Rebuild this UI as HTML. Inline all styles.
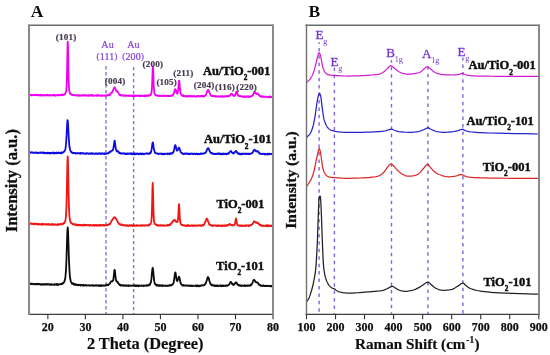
<!DOCTYPE html>
<html><head><meta charset="utf-8"><title>XRD and Raman</title>
<style>html,body{margin:0;padding:0;background:#fff;}svg{display:block;}</style>
</head><body>
<svg width="550" height="355" viewBox="0 0 550 355">
<rect width="550" height="355" fill="#fff"/>
<defs><filter id="soft" x="0" y="0" width="1" height="1"><feGaussianBlur stdDeviation="0.4"/></filter></defs>
<g filter="url(#soft)">
<rect width="550" height="355" fill="#fff"/>
<line x1="106.0" y1="66.1" x2="106.0" y2="314.0" stroke="#8a72cc" stroke-width="1.4" stroke-dasharray="3.3 2.7" stroke-dashoffset="0.0" fill="none"/>
<line x1="133.6" y1="66.9" x2="133.6" y2="314.0" stroke="#8a72cc" stroke-width="1.4" stroke-dasharray="3.3 2.7" stroke-dashoffset="0.0" fill="none"/>
<line x1="319.1" y1="42.2" x2="319.1" y2="314.0" stroke="#8462d6" stroke-width="1.4" stroke-dasharray="3.5 3.94" stroke-dashoffset="1.74" fill="none"/>
<line x1="334.4" y1="67.5" x2="334.4" y2="314.0" stroke="#8462d6" stroke-width="1.4" stroke-dasharray="3.5 3.94" stroke-dashoffset="0.08" fill="none"/>
<line x1="391.5" y1="60.0" x2="391.5" y2="314.0" stroke="#8462d6" stroke-width="1.4" stroke-dasharray="3.5 3.94" stroke-dashoffset="0.66" fill="none"/>
<line x1="427.9" y1="64.0" x2="427.9" y2="314.0" stroke="#8462d6" stroke-width="1.4" stroke-dasharray="3.5 3.94" stroke-dashoffset="5.1" fill="none"/>
<line x1="462.9" y1="57.5" x2="462.9" y2="314.0" stroke="#8462d6" stroke-width="1.4" stroke-dasharray="3.5 3.94" stroke-dashoffset="0.46" fill="none"/>
<path d="M29.7 95.14 L29.95 95.2 L30.2 95.08 L30.45 94.95 L30.7 95.04 L30.95 94.93 L31.2 95.16 L31.45 95.44 L31.7 95.04 L31.95 95.02 L32.2 95.26 L32.45 95.23 L32.7 95.18 L32.95 94.95 L33.2 95.15 L33.45 95.31 L33.7 94.87 L33.95 95.06 L34.2 94.75 L34.45 94.88 L34.7 94.76 L34.95 95.12 L35.2 94.89 L35.45 95.23 L35.7 95.21 L35.95 95.14 L36.2 94.63 L36.45 95.06 L36.7 95.17 L36.95 95.21 L37.2 94.85 L37.45 95.08 L37.7 94.97 L37.95 95.01 L38.2 95.43 L38.45 95.02 L38.7 95.19 L38.95 95.39 L39.2 95.07 L39.45 95.18 L39.7 95.23 L39.95 95.22 L40.2 94.93 L40.45 95.22 L40.7 95.51 L40.95 94.87 L41.2 95.4 L41.45 95.24 L41.7 95.07 L41.95 95.65 L42.2 95.38 L42.45 94.95 L42.7 95.24 L42.95 95.35 L43.2 95.18 L43.45 95.37 L43.7 95.21 L43.95 95.37 L44.2 95.54 L44.45 95.08 L44.7 95.27 L44.95 95.13 L45.2 95.26 L45.45 94.97 L45.7 95.11 L45.95 95.19 L46.2 95.43 L46.45 95.49 L46.7 94.95 L46.95 95.07 L47.2 95.38 L47.45 94.8 L47.7 95.14 L47.95 95.22 L48.2 95.52 L48.45 95.4 L48.7 95.18 L48.95 95.17 L49.2 95.19 L49.45 95.59 L49.7 95.16 L49.95 95.19 L50.2 95.33 L50.45 95.23 L50.7 95.21 L50.95 95.01 L51.2 95.25 L51.45 95.16 L51.7 95.51 L51.95 95.4 L52.2 95.25 L52.45 95.4 L52.7 95.18 L52.95 95.49 L53.2 95.26 L53.45 95.38 L53.7 94.97 L53.95 95.33 L54.2 94.88 L54.45 94.81 L54.7 95.19 L54.95 95.06 L55.2 95.29 L55.45 95.74 L55.7 95.07 L55.95 95.11 L56.2 95.29 L56.45 95.35 L56.7 95.2 L56.95 95.19 L57.2 95.39 L57.45 95.35 L57.7 95 L57.95 95.21 L58.2 95.23 L58.45 94.98 L58.7 95.27 L58.95 95.01 L59.2 95.41 L59.45 95.23 L59.7 95.2 L59.95 95.04 L60.2 95.13 L60.45 94.71 L60.7 94.88 L60.95 95.2 L61.2 94.63 L61.45 95.27 L61.7 94.67 L61.95 95.2 L62.2 94.82 L62.45 95.14 L62.7 94.96 L62.95 94.55 L63.2 95.11 L63.45 95.09 L63.7 94.68 L63.95 94.54 L64.2 94.46 L64.45 94.15 L64.7 94.44 L64.95 93.86 L65.2 93.7 L65.45 93.18 L65.7 92.72 L65.95 91.85 L66.2 91.18 L66.45 88.58 L66.7 84.41 L66.95 76.35 L67.2 64.31 L67.45 50.49 L67.7 41.59 L67.95 45.84 L68.2 58.81 L68.45 71.99 L68.7 81.25 L68.95 87.02 L69.2 90.55 L69.45 91.6 L69.7 92.4 L69.95 93.28 L70.2 93.92 L70.45 93.6 L70.7 94.11 L70.95 94.2 L71.2 94.11 L71.45 94.78 L71.7 94.71 L71.95 94.81 L72.2 94.7 L72.45 95.03 L72.7 94.86 L72.95 94.99 L73.2 94.82 L73.45 94.83 L73.7 95.42 L73.95 95.04 L74.2 95.24 L74.45 95.19 L74.7 95.12 L74.95 95.13 L75.2 95.39 L75.45 95.2 L75.7 95.25 L75.95 95.3 L76.2 95.57 L76.45 95.47 L76.7 95.41 L76.95 95.21 L77.2 95.04 L77.45 95.56 L77.7 95.58 L77.95 95.34 L78.2 95.5 L78.45 95.56 L78.7 95.57 L78.95 95.6 L79.2 95.3 L79.45 95.74 L79.7 95.14 L79.95 95.61 L80.2 95.53 L80.45 95.62 L80.7 95.84 L80.95 95.76 L81.2 95.19 L81.45 95.07 L81.7 95.63 L81.95 95.23 L82.2 95.45 L82.45 95.64 L82.7 95.1 L82.95 95 L83.2 95.52 L83.45 95.48 L83.7 95.42 L83.95 95.48 L84.2 95.29 L84.45 95.15 L84.7 95.45 L84.95 95.27 L85.2 95.13 L85.45 95.6 L85.7 95.48 L85.95 95.59 L86.2 95.28 L86.45 95.36 L86.7 95.28 L86.95 95.31 L87.2 95.55 L87.45 95.34 L87.7 95.59 L87.95 95.59 L88.2 95.96 L88.45 95.21 L88.7 95.72 L88.95 95.5 L89.2 95.52 L89.45 95.21 L89.7 95.43 L89.95 95.69 L90.2 95.51 L90.45 95.55 L90.7 95.47 L90.95 95.79 L91.2 95.53 L91.45 95.06 L91.7 95.39 L91.95 95.11 L92.2 94.83 L92.45 95.43 L92.7 95.84 L92.95 95.56 L93.2 95.29 L93.45 95.34 L93.7 95.8 L93.95 95.59 L94.2 95.57 L94.45 95.54 L94.7 95.57 L94.95 95.74 L95.2 95.68 L95.45 95.61 L95.7 95.33 L95.95 95.67 L96.2 95.41 L96.45 95.8 L96.7 95.28 L96.95 95.53 L97.2 95.56 L97.45 95.27 L97.7 95.95 L97.95 95.89 L98.2 95.47 L98.45 95.74 L98.7 95.65 L98.95 94.99 L99.2 95.62 L99.45 95.55 L99.7 95.59 L99.95 95.33 L100.2 95.51 L100.45 95.53 L100.7 95.83 L100.95 95.64 L101.2 95.56 L101.45 95.9 L101.7 95.44 L101.95 95.47 L102.2 95.15 L102.45 95.9 L102.7 95.76 L102.95 95.75 L103.2 95.69 L103.45 95.56 L103.7 95.58 L103.95 95.47 L104.2 95.48 L104.45 95.53 L104.7 95.84 L104.95 95.63 L105.2 95.48 L105.45 95.36 L105.7 95.34 L105.95 95.82 L106.2 95.57 L106.45 95.46 L106.7 95.35 L106.95 95.16 L107.2 95.37 L107.45 95.56 L107.7 95.25 L107.95 95.25 L108.2 95.21 L108.45 95.24 L108.7 94.8 L108.95 95.02 L109.2 94.78 L109.45 95.04 L109.7 94.52 L109.95 94.63 L110.2 94.61 L110.45 93.95 L110.7 93.6 L110.95 93.46 L111.2 93.09 L111.45 92.55 L111.7 92.56 L111.95 92.63 L112.2 91.86 L112.45 91.57 L112.7 91.02 L112.95 90.85 L113.2 89.94 L113.45 89.3 L113.7 89.11 L113.95 87.92 L114.2 87.78 L114.45 87.54 L114.7 87.24 L114.95 87.62 L115.2 88.5 L115.45 88.73 L115.7 89.36 L115.95 89.84 L116.2 90.66 L116.45 91.33 L116.7 91.44 L116.95 91.12 L117.2 91.19 L117.45 91.37 L117.7 91.76 L117.95 92 L118.2 92.55 L118.45 93.06 L118.7 93.4 L118.95 93.88 L119.2 94.29 L119.45 94.52 L119.7 94.88 L119.95 95.36 L120.2 95.21 L120.45 95.19 L120.7 94.89 L120.95 95.4 L121.2 94.94 L121.45 95.1 L121.7 95.63 L121.95 95.63 L122.2 95.46 L122.45 95.14 L122.7 95.46 L122.95 95.41 L123.2 95.72 L123.45 96.09 L123.7 95.66 L123.95 95.45 L124.2 95.38 L124.45 95.63 L124.7 95.62 L124.95 95.41 L125.2 95.7 L125.45 95.43 L125.7 95.94 L125.95 95.93 L126.2 95.94 L126.45 95.61 L126.7 95.83 L126.95 95.7 L127.2 95.65 L127.45 95.66 L127.7 95.46 L127.95 95.43 L128.2 95.93 L128.45 95.71 L128.7 95.81 L128.95 95.99 L129.2 95.39 L129.45 95.6 L129.7 95.82 L129.95 95.87 L130.2 95.7 L130.45 96.01 L130.7 95.84 L130.95 95.53 L131.2 95.59 L131.45 95.98 L131.7 95.91 L131.95 95.39 L132.2 96.11 L132.45 95.94 L132.7 96.11 L132.95 95.73 L133.2 95.76 L133.45 95.58 L133.7 96.38 L133.95 95.79 L134.2 96.18 L134.45 95.69 L134.7 95.87 L134.95 95.47 L135.2 95.75 L135.45 96.06 L135.7 95.57 L135.95 96.08 L136.2 95.92 L136.45 95.62 L136.7 95.74 L136.95 95.75 L137.2 95.84 L137.45 95.74 L137.7 95.67 L137.95 95.79 L138.2 95.63 L138.45 95.58 L138.7 95.85 L138.95 96.06 L139.2 95.53 L139.45 95.86 L139.7 95.72 L139.95 95.65 L140.2 96.05 L140.45 95.75 L140.7 96.2 L140.95 95.7 L141.2 95.95 L141.45 95.82 L141.7 95.7 L141.95 96 L142.2 95.83 L142.45 96 L142.7 95.85 L142.95 95.62 L143.2 95.84 L143.45 95.87 L143.7 96.07 L143.95 95.65 L144.2 95.84 L144.45 95.47 L144.7 95.99 L144.95 95.6 L145.2 95.44 L145.45 95.81 L145.7 96.06 L145.95 95.48 L146.2 95.56 L146.45 95.63 L146.7 95.53 L146.95 95.85 L147.2 95.58 L147.45 95.58 L147.7 95.84 L147.95 95.53 L148.2 95.76 L148.45 95.42 L148.7 95.33 L148.95 95.14 L149.2 95.9 L149.45 95.35 L149.7 95.39 L149.95 95.22 L150.2 95.13 L150.45 94.93 L150.7 95.1 L150.95 94.11 L151.2 93.46 L151.45 92.62 L151.7 90.75 L151.95 87.94 L152.2 82.68 L152.45 75.23 L152.7 68.35 L152.95 66.47 L153.2 71.4 L153.45 77.79 L153.7 84.99 L153.95 89.08 L154.2 92.15 L154.45 93.08 L154.7 94.01 L154.95 94.18 L155.2 94.59 L155.45 95.33 L155.7 95.37 L155.95 95.22 L156.2 95.22 L156.45 95.08 L156.7 95.47 L156.95 95.61 L157.2 95.64 L157.45 95.68 L157.7 95.49 L157.95 95.75 L158.2 95.78 L158.45 96.1 L158.7 96.24 L158.95 95.82 L159.2 95.69 L159.45 95.86 L159.7 95.76 L159.95 95.74 L160.2 95.9 L160.45 95.69 L160.7 96.06 L160.95 95.91 L161.2 96 L161.45 95.91 L161.7 95.79 L161.95 95.75 L162.2 95.91 L162.45 95.85 L162.7 96.02 L162.95 95.97 L163.2 95.68 L163.45 96 L163.7 95.69 L163.95 95.85 L164.2 95.92 L164.45 95.53 L164.7 96.01 L164.95 96.02 L165.2 95.96 L165.45 95.9 L165.7 95.91 L165.95 95.78 L166.2 95.93 L166.45 95.87 L166.7 96.01 L166.95 95.72 L167.2 96.03 L167.45 96.01 L167.7 95.94 L167.95 95.87 L168.2 96.09 L168.45 95.59 L168.7 96.05 L168.95 96 L169.2 95.99 L169.45 96.01 L169.7 95.76 L169.95 95.84 L170.2 96.02 L170.45 95.95 L170.7 95.88 L170.95 95.47 L171.2 95.89 L171.45 95.99 L171.7 95.91 L171.95 95.68 L172.2 95.21 L172.45 95.66 L172.7 95.27 L172.95 94.53 L173.2 94.87 L173.45 94.02 L173.7 93.47 L173.95 92.85 L174.2 92.33 L174.45 90.92 L174.7 90.03 L174.95 89.54 L175.2 89.17 L175.45 89.06 L175.7 89.75 L175.95 90.47 L176.2 91.53 L176.45 92.59 L176.7 93.19 L176.95 93.49 L177.2 93.77 L177.45 93.11 L177.7 92.53 L177.95 91.33 L178.2 89.18 L178.45 86.48 L178.7 83.25 L178.95 80.78 L179.2 80.71 L179.45 82.47 L179.7 85.44 L179.95 88.94 L180.2 91.18 L180.45 92.93 L180.7 93.55 L180.95 94.48 L181.2 94.82 L181.45 95 L181.7 94.87 L181.95 95.42 L182.2 95.79 L182.45 95.76 L182.7 95.61 L182.95 95.79 L183.2 96.01 L183.45 95.27 L183.7 95.89 L183.95 96.06 L184.2 96.12 L184.45 96.37 L184.7 96.26 L184.95 96.1 L185.2 96.11 L185.45 96.24 L185.7 95.96 L185.95 96.08 L186.2 96.3 L186.45 96.54 L186.7 96.08 L186.95 96.12 L187.2 96.18 L187.45 96.44 L187.7 96.14 L187.95 96.48 L188.2 95.95 L188.45 96.13 L188.7 96.13 L188.95 96.35 L189.2 96.41 L189.45 95.86 L189.7 95.99 L189.95 96.27 L190.2 96.06 L190.45 95.87 L190.7 96.44 L190.95 96.32 L191.2 96.32 L191.45 96.11 L191.7 96.45 L191.95 96.17 L192.2 96.47 L192.45 96.03 L192.7 96.04 L192.95 96.28 L193.2 96.08 L193.45 96.39 L193.7 96.3 L193.95 96.04 L194.2 96.26 L194.45 96.17 L194.7 96.45 L194.95 96.11 L195.2 96.15 L195.45 96.51 L195.7 96.74 L195.95 96.69 L196.2 96.26 L196.45 96.3 L196.7 96.59 L196.95 96.22 L197.2 96.03 L197.45 96.27 L197.7 96.35 L197.95 96.06 L198.2 95.88 L198.45 95.93 L198.7 96.39 L198.95 96.07 L199.2 96.2 L199.45 96.28 L199.7 96.36 L199.95 96.15 L200.2 96.33 L200.45 96.02 L200.7 96.13 L200.95 95.97 L201.2 96.44 L201.45 96.17 L201.7 96 L201.95 96.08 L202.2 96.09 L202.45 96.28 L202.7 95.75 L202.95 95.85 L203.2 95.97 L203.45 96.58 L203.7 96.2 L203.95 95.92 L204.2 96.04 L204.45 96.26 L204.7 95.65 L204.95 95.49 L205.2 95.66 L205.45 95.27 L205.7 95.01 L205.95 94.38 L206.2 94.45 L206.45 93.84 L206.7 92.96 L206.95 92.29 L207.2 90.97 L207.45 90.88 L207.7 90.14 L207.95 89.96 L208.2 89.98 L208.45 90.03 L208.7 90.25 L208.95 91.37 L209.2 91.85 L209.45 92.64 L209.7 93.24 L209.95 93.87 L210.2 93.92 L210.45 95.1 L210.7 95.2 L210.95 95.64 L211.2 96.02 L211.45 95.74 L211.7 95.44 L211.95 95.73 L212.2 95.72 L212.45 95.93 L212.7 96.1 L212.95 95.68 L213.2 96.23 L213.45 95.85 L213.7 96.27 L213.95 96.2 L214.2 96.17 L214.45 96.24 L214.7 96.15 L214.95 96.15 L215.2 95.93 L215.45 96.3 L215.7 96.73 L215.95 96.77 L216.2 96.63 L216.45 96.5 L216.7 96.21 L216.95 96.68 L217.2 96.36 L217.45 96.36 L217.7 96.32 L217.95 96.41 L218.2 96.3 L218.45 96.38 L218.7 96.16 L218.95 96.32 L219.2 96.91 L219.45 96.4 L219.7 96.36 L219.95 96.54 L220.2 96.58 L220.45 96.18 L220.7 96.38 L220.95 96.63 L221.2 96.49 L221.45 96.46 L221.7 96.78 L221.95 96.29 L222.2 96.46 L222.45 96.33 L222.7 96.77 L222.95 96.01 L223.2 96.29 L223.45 96.33 L223.7 96.59 L223.95 96.57 L224.2 96.75 L224.45 96.09 L224.7 96.6 L224.95 96.37 L225.2 96.29 L225.45 96.55 L225.7 96.22 L225.95 95.96 L226.2 96.33 L226.45 96.08 L226.7 96.26 L226.95 96.47 L227.2 96.45 L227.45 96.71 L227.7 96.3 L227.95 95.98 L228.2 96.12 L228.45 96.05 L228.7 95.92 L228.95 96.21 L229.2 95.86 L229.45 95.42 L229.7 95.8 L229.95 95.36 L230.2 95.15 L230.45 94.73 L230.7 94.45 L230.95 93.94 L231.2 93.9 L231.45 93.58 L231.7 93.63 L231.95 93.86 L232.2 93.8 L232.45 94.46 L232.7 94.8 L232.95 95.23 L233.2 95.14 L233.45 95.99 L233.7 95.79 L233.95 95.58 L234.2 95.5 L234.45 95.78 L234.7 95.71 L234.95 95.35 L235.2 95.17 L235.45 94.46 L235.7 93.98 L235.95 92.81 L236.2 92.05 L236.45 91.64 L236.7 91.93 L236.95 91.71 L237.2 92.73 L237.45 93.58 L237.7 94.74 L237.95 94.93 L238.2 95.5 L238.45 95.88 L238.7 95.85 L238.95 95.97 L239.2 96.16 L239.45 95.85 L239.7 96.04 L239.95 96.3 L240.2 96.45 L240.45 96.4 L240.7 96.07 L240.95 96.38 L241.2 96.67 L241.45 96.63 L241.7 96.5 L241.95 96.33 L242.2 96.67 L242.45 96.41 L242.7 96.29 L242.95 96.38 L243.2 96.88 L243.45 96.61 L243.7 96.82 L243.95 96.46 L244.2 96.78 L244.45 96.44 L244.7 96.54 L244.95 97.12 L245.2 96.75 L245.45 96.47 L245.7 96.56 L245.95 96.65 L246.2 96.84 L246.45 96.47 L246.7 96.19 L246.95 96.51 L247.2 96.57 L247.45 96.59 L247.7 96.85 L247.95 96.63 L248.2 96.73 L248.45 96.3 L248.7 96.73 L248.95 96.99 L249.2 96.69 L249.45 96.56 L249.7 96.52 L249.95 96.86 L250.2 96.25 L250.45 96.4 L250.7 96.5 L250.95 96.52 L251.2 96.21 L251.45 96.31 L251.7 96.09 L251.95 96.06 L252.2 95.83 L252.45 95.38 L252.7 95.33 L252.95 95.15 L253.2 94.28 L253.45 93.9 L253.7 93.51 L253.95 92.53 L254.2 92.29 L254.45 91.67 L254.7 92.07 L254.95 92.49 L255.2 92.77 L255.45 92.69 L255.7 93.29 L255.95 93.46 L256.2 93.65 L256.45 94.05 L256.7 93.4 L256.95 93.84 L257.2 93.51 L257.45 93.8 L257.7 93.61 L257.95 93.62 L258.2 94.13 L258.45 94.58 L258.7 94.78 L258.95 95.22 L259.2 95.31 L259.45 95.21 L259.7 96.1 L259.95 96.22 L260.2 96.24 L260.45 96.32 L260.7 96.61 L260.95 96.35 L261.2 96.34 L261.45 96.49 L261.7 96.82 L261.95 96.28 L262.2 96.87 L262.45 96.49 L262.7 96.4 L262.95 96.93 L263.2 96.65 L263.45 96.4 L263.7 96.62 L263.95 96.91 L264.2 96.98 L264.45 96.63 L264.7 96.82 L264.95 96.9 L265.2 96.6 L265.45 96.83 L265.7 96.75 L265.95 96.65 L266.2 96.66 L266.45 96.79 L266.7 96.79 L266.95 96.66 L267.2 96.7 L267.45 97.04 L267.7 96.85 L267.95 97 L268.2 97.07 L268.45 96.94 L268.7 97.31 L268.95 96.64 L269.2 97 L269.45 96.76 L269.7 97.24 L269.95 97.21 L270.2 96.41 L270.45 96.63 L270.7 96.99 L270.95 97.02 L271.2 97.01 L271.45 96.83 L271.7 96.95 L271.95 97 L272.2 96.84 L272.45 97.09" stroke="#f000f0" stroke-width="1.8" fill="none" stroke-linejoin="round"/>
<path d="M29.7 152.04 L29.95 152.68 L30.2 152.32 L30.45 152.77 L30.7 152.52 L30.95 152.38 L31.2 152.67 L31.45 152.39 L31.7 152.4 L31.95 152.26 L32.2 152.61 L32.45 152.73 L32.7 152.86 L32.95 152.61 L33.2 152.88 L33.45 152.66 L33.7 152.64 L33.95 152.8 L34.2 152.91 L34.45 152.61 L34.7 152.64 L34.95 152.66 L35.2 152.73 L35.45 152.52 L35.7 152.95 L35.95 152.64 L36.2 152.84 L36.45 152.56 L36.7 152.83 L36.95 152.84 L37.2 152.67 L37.45 153.22 L37.7 152.86 L37.95 153.17 L38.2 153 L38.45 152.65 L38.7 152.72 L38.95 152.91 L39.2 152.83 L39.45 152.83 L39.7 152.77 L39.95 152.44 L40.2 152.79 L40.45 152.36 L40.7 152.94 L40.95 152.7 L41.2 152.71 L41.45 152.82 L41.7 152.94 L41.95 152.57 L42.2 152.5 L42.45 152.66 L42.7 152.45 L42.95 152.69 L43.2 153.26 L43.45 152.68 L43.7 153.07 L43.95 152.63 L44.2 153 L44.45 152.87 L44.7 152.93 L44.95 153.07 L45.2 153.34 L45.45 153 L45.7 152.99 L45.95 152.75 L46.2 153.1 L46.45 152.92 L46.7 153.16 L46.95 152.98 L47.2 153.37 L47.45 152.56 L47.7 152.93 L47.95 153.2 L48.2 152.93 L48.45 152.84 L48.7 152.96 L48.95 152.72 L49.2 153.05 L49.45 153.56 L49.7 153.28 L49.95 152.79 L50.2 152.84 L50.45 152.95 L50.7 153.26 L50.95 152.86 L51.2 152.9 L51.45 153.24 L51.7 153.24 L51.95 152.97 L52.2 152.81 L52.45 152.72 L52.7 152.91 L52.95 152.57 L53.2 153.23 L53.45 152.93 L53.7 153.17 L53.95 153.48 L54.2 153.32 L54.45 152.81 L54.7 153.26 L54.95 153.32 L55.2 152.9 L55.45 152.85 L55.7 153.04 L55.95 152.71 L56.2 153.38 L56.45 152.52 L56.7 152.81 L56.95 152.99 L57.2 152.99 L57.45 153.07 L57.7 153.09 L57.95 152.97 L58.2 153.26 L58.45 152.53 L58.7 152.99 L58.95 152.82 L59.2 153 L59.45 153 L59.7 152.74 L59.95 152.78 L60.2 153.07 L60.45 152.95 L60.7 152.7 L60.95 153.27 L61.2 153.29 L61.45 152.42 L61.7 152.77 L61.95 153.2 L62.2 152.77 L62.45 152.58 L62.7 152.4 L62.95 152.24 L63.2 152.21 L63.45 152.01 L63.7 152.15 L63.95 151.72 L64.2 151.49 L64.45 151.04 L64.7 150.91 L64.95 150.19 L65.2 149.58 L65.45 148.71 L65.7 146.93 L65.95 144.65 L66.2 141.53 L66.45 137.53 L66.7 132.85 L66.95 127.84 L67.2 123.54 L67.45 120.19 L67.7 120.44 L67.95 122.63 L68.2 126.78 L68.45 131.81 L68.7 136.52 L68.95 140.8 L69.2 143.88 L69.45 146.75 L69.7 148.09 L69.95 148.99 L70.2 150.17 L70.45 150.47 L70.7 151.31 L70.95 151.86 L71.2 152.01 L71.45 151.77 L71.7 152.05 L71.95 152.74 L72.2 152.54 L72.45 152.57 L72.7 152.88 L72.95 153.26 L73.2 153.08 L73.45 152.88 L73.7 152.98 L73.95 153.08 L74.2 152.85 L74.45 152.79 L74.7 153.07 L74.95 152.88 L75.2 153.11 L75.45 153.17 L75.7 153.68 L75.95 153 L76.2 153.19 L76.45 153.2 L76.7 153.35 L76.95 153.5 L77.2 153.17 L77.45 153.11 L77.7 152.95 L77.95 153.12 L78.2 153.45 L78.45 153.35 L78.7 153.13 L78.95 153.28 L79.2 153.38 L79.45 153.5 L79.7 153.26 L79.95 153.35 L80.2 153.01 L80.45 153.16 L80.7 153.78 L80.95 152.95 L81.2 153.36 L81.45 153.49 L81.7 153.37 L81.95 153.28 L82.2 153.45 L82.45 153.47 L82.7 153.46 L82.95 153.07 L83.2 153.45 L83.45 153.3 L83.7 153.37 L83.95 153.55 L84.2 153.64 L84.45 153.71 L84.7 153.4 L84.95 153.72 L85.2 153.78 L85.45 153.77 L85.7 153.83 L85.95 153.5 L86.2 153.5 L86.45 153.72 L86.7 153.24 L86.95 153.59 L87.2 153.43 L87.45 153.47 L87.7 153.17 L87.95 153.36 L88.2 153.56 L88.45 153.76 L88.7 153.79 L88.95 153.55 L89.2 153.53 L89.45 153.39 L89.7 153.67 L89.95 153.53 L90.2 153.72 L90.45 153.97 L90.7 153.58 L90.95 153.26 L91.2 153.4 L91.45 153.27 L91.7 153.33 L91.95 153.89 L92.2 153.65 L92.45 153.27 L92.7 153.75 L92.95 153.88 L93.2 153.53 L93.45 153.46 L93.7 153.54 L93.95 153.68 L94.2 153.76 L94.45 153.88 L94.7 153.88 L94.95 153.88 L95.2 153.92 L95.45 153.77 L95.7 153.29 L95.95 153.59 L96.2 153.69 L96.45 153.54 L96.7 153.83 L96.95 153.55 L97.2 153.42 L97.45 153.95 L97.7 153.78 L97.95 153.68 L98.2 153.83 L98.45 153.86 L98.7 153.7 L98.95 153.09 L99.2 153.48 L99.45 153.53 L99.7 153.41 L99.95 153.67 L100.2 153.89 L100.45 153.52 L100.7 153.37 L100.95 154.07 L101.2 153.52 L101.45 153.35 L101.7 153.67 L101.95 153.71 L102.2 153.46 L102.45 153.78 L102.7 153.5 L102.95 153.4 L103.2 153.64 L103.45 153.76 L103.7 153.45 L103.95 153.65 L104.2 153.55 L104.45 154.19 L104.7 153.4 L104.95 153.85 L105.2 153.53 L105.45 153.5 L105.7 153.67 L105.95 153.69 L106.2 153.75 L106.45 153.53 L106.7 153.29 L106.95 153.28 L107.2 153.47 L107.45 153.43 L107.7 153.56 L107.95 153.27 L108.2 153.33 L108.45 153.33 L108.7 152.91 L108.95 152.4 L109.2 152.31 L109.45 152.07 L109.7 152.53 L109.95 151.78 L110.2 152 L110.45 151.62 L110.7 151.64 L110.95 151.27 L111.2 150.84 L111.45 150.68 L111.7 150.65 L111.95 150.61 L112.2 150.41 L112.45 150.44 L112.7 150.61 L112.95 149.5 L113.2 149.22 L113.45 147.84 L113.7 146.5 L113.95 144.69 L114.2 142.49 L114.45 141.26 L114.7 140.65 L114.95 142.54 L115.2 144.21 L115.45 146.57 L115.7 148.22 L115.95 148.89 L116.2 150.11 L116.45 150.78 L116.7 151.28 L116.95 151.08 L117.2 151.09 L117.45 150.76 L117.7 151.47 L117.95 151.72 L118.2 151.55 L118.45 151.75 L118.7 151.71 L118.95 152.51 L119.2 153.15 L119.45 152.91 L119.7 153.21 L119.95 153.19 L120.2 152.97 L120.45 153.57 L120.7 153.08 L120.95 153.37 L121.2 153.52 L121.45 153.69 L121.7 153.62 L121.95 153.64 L122.2 153.41 L122.45 153.31 L122.7 153.62 L122.95 153.47 L123.2 153.35 L123.45 153.37 L123.7 153.55 L123.95 153.26 L124.2 153.38 L124.45 153.33 L124.7 153.74 L124.95 153.79 L125.2 154.15 L125.45 153.39 L125.7 153.57 L125.95 153.93 L126.2 153.69 L126.45 153.67 L126.7 154.12 L126.95 153.67 L127.2 153.5 L127.45 153.47 L127.7 153.83 L127.95 153.83 L128.2 153.47 L128.45 153.55 L128.7 153.89 L128.95 153.9 L129.2 153.64 L129.45 153.92 L129.7 153.91 L129.95 153.39 L130.2 153.72 L130.45 153.88 L130.7 153.67 L130.95 153.32 L131.2 153.73 L131.45 153.96 L131.7 154.15 L131.95 153.32 L132.2 154.38 L132.45 153.56 L132.7 154.02 L132.95 154.08 L133.2 154.03 L133.45 153.84 L133.7 153.56 L133.95 153.95 L134.2 153.66 L134.45 153.26 L134.7 154.44 L134.95 153.97 L135.2 154.22 L135.45 153.62 L135.7 154.14 L135.95 154.17 L136.2 154.16 L136.45 153.82 L136.7 153.56 L136.95 153.78 L137.2 153.34 L137.45 153.45 L137.7 153.84 L137.95 153.61 L138.2 153.79 L138.45 153.8 L138.7 154.25 L138.95 154.11 L139.2 153.81 L139.45 154.09 L139.7 153.65 L139.95 153.75 L140.2 154.02 L140.45 153.55 L140.7 153.76 L140.95 153.53 L141.2 153.84 L141.45 154.18 L141.7 153.65 L141.95 153.86 L142.2 153.62 L142.45 153.56 L142.7 153.54 L142.95 154.13 L143.2 154.32 L143.45 153.91 L143.7 153.64 L143.95 153.95 L144.2 153.72 L144.45 153.96 L144.7 153.84 L144.95 153.84 L145.2 153.9 L145.45 153.63 L145.7 153.67 L145.95 153.37 L146.2 153.64 L146.45 153.41 L146.7 153.68 L146.95 153.49 L147.2 153.71 L147.45 153.77 L147.7 153.34 L147.95 153.45 L148.2 153.39 L148.45 153.73 L148.7 153.9 L148.95 153.67 L149.2 153.35 L149.45 153.69 L149.7 152.95 L149.95 153.5 L150.2 152.87 L150.45 152.19 L150.7 153.05 L150.95 152.31 L151.2 150.99 L151.45 150.19 L151.7 148.7 L151.95 147.05 L152.2 144.81 L152.45 143.26 L152.7 142.49 L152.95 142.56 L153.2 143.98 L153.45 145.53 L153.7 147.91 L153.95 148.9 L154.2 150.45 L154.45 150.97 L154.7 151.81 L154.95 152.84 L155.2 152.65 L155.45 153.17 L155.7 153.19 L155.95 153.07 L156.2 153.31 L156.45 153.33 L156.7 153.39 L156.95 153.71 L157.2 153.72 L157.45 153.48 L157.7 153.44 L157.95 153.72 L158.2 153.66 L158.45 153.92 L158.7 154.3 L158.95 153.91 L159.2 153.73 L159.45 153.71 L159.7 153.57 L159.95 153.57 L160.2 153.55 L160.45 153.69 L160.7 153.69 L160.95 153.95 L161.2 153.71 L161.45 153.75 L161.7 153.53 L161.95 154.17 L162.2 153.92 L162.45 154.2 L162.7 153.99 L162.95 154.14 L163.2 153.76 L163.45 153.97 L163.7 154.41 L163.95 153.55 L164.2 154.07 L164.45 154.19 L164.7 153.91 L164.95 153.98 L165.2 154.09 L165.45 153.66 L165.7 153.9 L165.95 153.61 L166.2 153.65 L166.45 153.66 L166.7 153.76 L166.95 153.82 L167.2 153.89 L167.45 153.46 L167.7 154.22 L167.95 154.02 L168.2 153.92 L168.45 153.67 L168.7 153.72 L168.95 153.85 L169.2 153.8 L169.45 153.32 L169.7 153.85 L169.95 154.32 L170.2 153.22 L170.45 153.84 L170.7 153.67 L170.95 153.53 L171.2 153.82 L171.45 153.2 L171.7 153.45 L171.95 153.67 L172.2 153.2 L172.45 153.03 L172.7 152.98 L172.95 152.6 L173.2 152.71 L173.45 151.66 L173.7 151.41 L173.95 150.08 L174.2 149.47 L174.45 148.12 L174.7 146.35 L174.95 145.89 L175.2 145.05 L175.45 145.21 L175.7 146.29 L175.95 146.68 L176.2 147.79 L176.45 149.35 L176.7 149.83 L176.95 150.67 L177.2 150.62 L177.45 150.29 L177.7 150.16 L177.95 149.94 L178.2 149.21 L178.45 148.32 L178.7 147.78 L178.95 147.51 L179.2 147.58 L179.45 148.71 L179.7 149.06 L179.95 149.65 L180.2 150.6 L180.45 151.57 L180.7 152.12 L180.95 152.39 L181.2 152.61 L181.45 153.01 L181.7 152.8 L181.95 153.01 L182.2 153.58 L182.45 153.36 L182.7 153.61 L182.95 153.84 L183.2 153.75 L183.45 153.64 L183.7 154.14 L183.95 153.84 L184.2 153.63 L184.45 153.89 L184.7 153.83 L184.95 153.56 L185.2 153.78 L185.45 153.74 L185.7 153.35 L185.95 153.76 L186.2 153.74 L186.45 153.72 L186.7 153.45 L186.95 153.75 L187.2 153.83 L187.45 153.87 L187.7 153.59 L187.95 154 L188.2 153.58 L188.45 153.81 L188.7 154.16 L188.95 153.71 L189.2 153.76 L189.45 154.12 L189.7 153.79 L189.95 153.81 L190.2 153.93 L190.45 154.12 L190.7 153.39 L190.95 153.7 L191.2 153.66 L191.45 153.64 L191.7 153.7 L191.95 153.7 L192.2 153.96 L192.45 153.69 L192.7 153.92 L192.95 153.99 L193.2 153.73 L193.45 153.93 L193.7 154.27 L193.95 153.97 L194.2 153.75 L194.45 153.88 L194.7 153.69 L194.95 153.96 L195.2 154.09 L195.45 153.71 L195.7 153.85 L195.95 154.14 L196.2 153.78 L196.45 153.93 L196.7 153.66 L196.95 153.7 L197.2 153.77 L197.45 154.36 L197.7 153.79 L197.95 153.76 L198.2 153.75 L198.45 153.84 L198.7 154.01 L198.95 153.91 L199.2 154.31 L199.45 153.9 L199.7 154.17 L199.95 153.9 L200.2 153.97 L200.45 153.51 L200.7 153.79 L200.95 153.8 L201.2 153.75 L201.45 153.32 L201.7 153.97 L201.95 153.68 L202.2 153.65 L202.45 153.67 L202.7 153.66 L202.95 153.77 L203.2 153.37 L203.45 153.41 L203.7 153.64 L203.95 153.56 L204.2 153.37 L204.45 153.24 L204.7 153.07 L204.95 153.09 L205.2 153.17 L205.45 152.43 L205.7 152.7 L205.95 152.18 L206.2 151.46 L206.45 151.24 L206.7 150.2 L206.95 149.57 L207.2 149.11 L207.45 148.81 L207.7 148.47 L207.95 148.27 L208.2 148.47 L208.45 148.26 L208.7 149.29 L208.95 149.41 L209.2 150.15 L209.45 150.77 L209.7 151.12 L209.95 151.53 L210.2 152.01 L210.45 152.56 L210.7 152.96 L210.95 153.16 L211.2 152.98 L211.45 153.16 L211.7 153.23 L211.95 153.6 L212.2 153.12 L212.45 153.88 L212.7 153.54 L212.95 153.51 L213.2 153.78 L213.45 153.96 L213.7 153.83 L213.95 154 L214.2 153.81 L214.45 154.07 L214.7 154.08 L214.95 153.8 L215.2 154.15 L215.45 153.88 L215.7 153.87 L215.95 153.65 L216.2 153.8 L216.45 154.04 L216.7 153.58 L216.95 154.02 L217.2 153.96 L217.45 153.95 L217.7 153.4 L217.95 153.87 L218.2 154.04 L218.45 153.73 L218.7 153.92 L218.95 153.38 L219.2 154.05 L219.45 153.76 L219.7 154.1 L219.95 153.5 L220.2 154.06 L220.45 153.86 L220.7 154.09 L220.95 153.71 L221.2 153.78 L221.45 154.41 L221.7 153.73 L221.95 153.76 L222.2 153.85 L222.45 153.69 L222.7 154.17 L222.95 154.29 L223.2 153.75 L223.45 153.52 L223.7 154.16 L223.95 154.14 L224.2 154.07 L224.45 154.14 L224.7 153.69 L224.95 153.84 L225.2 153.57 L225.45 153.55 L225.7 154.07 L225.95 153.7 L226.2 154.33 L226.45 153.83 L226.7 153.66 L226.95 153.96 L227.2 154.15 L227.45 153.83 L227.7 153.4 L227.95 153.69 L228.2 153.82 L228.45 153.29 L228.7 153.07 L228.95 153.25 L229.2 152.8 L229.45 152.22 L229.7 152.04 L229.95 151.6 L230.2 151.5 L230.45 151.22 L230.7 151.36 L230.95 151.34 L231.2 151.07 L231.45 151.81 L231.7 152.26 L231.95 152.49 L232.2 152.9 L232.45 152.78 L232.7 152.87 L232.95 153.4 L233.2 153.03 L233.45 152.8 L233.7 153.46 L233.95 152.98 L234.2 152.93 L234.45 152.48 L234.7 152.25 L234.95 151.99 L235.2 151.85 L235.45 151.71 L235.7 150.9 L235.95 151.47 L236.2 151.1 L236.45 151.32 L236.7 152 L236.95 152.17 L237.2 152.17 L237.45 153.21 L237.7 152.86 L237.95 153.31 L238.2 153.45 L238.45 153.84 L238.7 153.52 L238.95 153.9 L239.2 153.56 L239.45 154.01 L239.7 153.62 L239.95 153.73 L240.2 154.24 L240.45 153.91 L240.7 153.87 L240.95 154.35 L241.2 153.95 L241.45 153.7 L241.7 154.04 L241.95 153.63 L242.2 154.14 L242.45 154.16 L242.7 153.77 L242.95 153.76 L243.2 153.94 L243.45 153.91 L243.7 153.69 L243.95 154.03 L244.2 153.46 L244.45 153.81 L244.7 153.82 L244.95 153.84 L245.2 153.97 L245.45 153.63 L245.7 154.03 L245.95 153.86 L246.2 153.75 L246.45 153.59 L246.7 153.62 L246.95 153.96 L247.2 153.66 L247.45 153.88 L247.7 154.09 L247.95 154.08 L248.2 154.18 L248.45 153.76 L248.7 153.58 L248.95 154.03 L249.2 153.86 L249.45 154.02 L249.7 153.75 L249.95 153.98 L250.2 153.87 L250.45 153.81 L250.7 153.71 L250.95 153.62 L251.2 153.5 L251.45 153.39 L251.7 153.41 L251.95 152.9 L252.2 153.18 L252.45 152.5 L252.7 152.43 L252.95 151.83 L253.2 151.39 L253.45 151.47 L253.7 150.54 L253.95 149.96 L254.2 149.8 L254.45 149.74 L254.7 150.29 L254.95 150.01 L255.2 150.4 L255.45 150.26 L255.7 150.83 L255.95 151.14 L256.2 151.56 L256.45 151.12 L256.7 151.45 L256.95 151.4 L257.2 151.11 L257.45 151.37 L257.7 151.42 L257.95 151.15 L258.2 152.04 L258.45 152.31 L258.7 152.37 L258.95 152.43 L259.2 153.28 L259.45 153.2 L259.7 153.53 L259.95 153.74 L260.2 153.42 L260.45 153.79 L260.7 153.62 L260.95 153.71 L261.2 153.74 L261.45 153.78 L261.7 154.05 L261.95 153.85 L262.2 153.81 L262.45 153.8 L262.7 153.95 L262.95 153.69 L263.2 153.78 L263.45 153.89 L263.7 153.79 L263.95 153.89 L264.2 153.79 L264.45 154.37 L264.7 154.23 L264.95 154.04 L265.2 153.94 L265.45 154.43 L265.7 154.03 L265.95 153.94 L266.2 154.03 L266.45 154.03 L266.7 154.28 L266.95 153.97 L267.2 154.44 L267.45 153.79 L267.7 154.13 L267.95 153.76 L268.2 154.39 L268.45 153.92 L268.7 153.98 L268.95 154.2 L269.2 154.27 L269.45 153.75 L269.7 153.92 L269.95 153.69 L270.2 154.03 L270.45 153.98 L270.7 153.93 L270.95 153.85 L271.2 153.92 L271.45 153.84 L271.7 154.12 L271.95 154.34 L272.2 153.59 L272.45 153.99" stroke="#0c0ce0" stroke-width="1.8" fill="none" stroke-linejoin="round"/>
<path d="M29.7 223.58 L29.95 223.79 L30.2 223.49 L30.45 223.68 L30.7 223.5 L30.95 223.89 L31.2 223.78 L31.45 223.73 L31.7 223.86 L31.95 223.74 L32.2 223.46 L32.45 223.95 L32.7 223.9 L32.95 223.81 L33.2 224.07 L33.45 224.14 L33.7 223.64 L33.95 223.72 L34.2 224.25 L34.45 224.23 L34.7 223.77 L34.95 223.68 L35.2 223.81 L35.45 223.86 L35.7 223.63 L35.95 224 L36.2 223.72 L36.45 223.75 L36.7 224.22 L36.95 223.88 L37.2 224.03 L37.45 224.19 L37.7 224.25 L37.95 224 L38.2 224.1 L38.45 223.92 L38.7 224.49 L38.95 224.26 L39.2 223.89 L39.45 224.14 L39.7 224.31 L39.95 224.27 L40.2 224.57 L40.45 224.48 L40.7 224.07 L40.95 224.18 L41.2 223.93 L41.45 224.27 L41.7 224.26 L41.95 224.83 L42.2 224.27 L42.45 223.8 L42.7 224.12 L42.95 224.3 L43.2 224.01 L43.45 224.1 L43.7 224.22 L43.95 224.38 L44.2 224.28 L44.45 224.13 L44.7 224.51 L44.95 224.22 L45.2 224.24 L45.45 224.06 L45.7 224.19 L45.95 224.52 L46.2 224.03 L46.45 224.37 L46.7 224.55 L46.95 224.32 L47.2 224.46 L47.45 224.17 L47.7 224.71 L47.95 224.67 L48.2 224.49 L48.45 224.06 L48.7 224.22 L48.95 224.67 L49.2 224.84 L49.45 224.54 L49.7 224.75 L49.95 224.35 L50.2 224.45 L50.45 224.49 L50.7 224.59 L50.95 224.17 L51.2 224.71 L51.45 224.8 L51.7 224.26 L51.95 224.22 L52.2 224.6 L52.45 224.38 L52.7 224.01 L52.95 224.71 L53.2 224.57 L53.45 224.44 L53.7 225.01 L53.95 224.58 L54.2 224.38 L54.45 224.57 L54.7 224.32 L54.95 224.38 L55.2 224.64 L55.45 224.43 L55.7 224.45 L55.95 224.92 L56.2 224.74 L56.45 224.72 L56.7 224.66 L56.95 224.64 L57.2 224.85 L57.45 224.52 L57.7 224.93 L57.95 224.3 L58.2 224.45 L58.45 224.19 L58.7 224.41 L58.95 224.58 L59.2 224.77 L59.45 224.29 L59.7 224.42 L59.95 224.32 L60.2 224.21 L60.45 224.08 L60.7 224.33 L60.95 223.9 L61.2 224.26 L61.45 224.2 L61.7 224 L61.95 223.86 L62.2 223.71 L62.45 224.35 L62.7 223.55 L62.95 224.08 L63.2 223.75 L63.45 223.39 L63.7 223.04 L63.95 223.31 L64.2 223.21 L64.45 222.31 L64.7 222.06 L64.95 221.86 L65.2 221.03 L65.45 220.43 L65.7 218.38 L65.95 216.21 L66.2 211.9 L66.45 206.52 L66.7 197.02 L66.95 185.08 L67.2 172.36 L67.45 160.81 L67.7 156.44 L67.95 160.78 L68.2 172.4 L68.45 185.72 L68.7 197.57 L68.95 206.09 L69.2 212.46 L69.45 216.27 L69.7 218.51 L69.95 220.09 L70.2 221.06 L70.45 221.53 L70.7 222.51 L70.95 222.34 L71.2 223.22 L71.45 223.44 L71.7 223.43 L71.95 223.47 L72.2 223.74 L72.45 224.03 L72.7 224.2 L72.95 224.2 L73.2 224.45 L73.45 224.18 L73.7 224.43 L73.95 224.09 L74.2 224.66 L74.45 224.58 L74.7 224.5 L74.95 224.88 L75.2 224.82 L75.45 224.08 L75.7 224.74 L75.95 224.44 L76.2 225.02 L76.45 225.36 L76.7 224.72 L76.95 224.87 L77.2 224.82 L77.45 224.97 L77.7 225.05 L77.95 225.21 L78.2 224.73 L78.45 225.3 L78.7 224.77 L78.95 225.05 L79.2 225.25 L79.45 225.17 L79.7 224.81 L79.95 224.88 L80.2 224.94 L80.45 225.04 L80.7 225.31 L80.95 224.79 L81.2 225.18 L81.45 225.22 L81.7 225.22 L81.95 225.21 L82.2 225.45 L82.45 225.23 L82.7 225.31 L82.95 225.26 L83.2 225.53 L83.45 224.73 L83.7 225.43 L83.95 225.1 L84.2 225.1 L84.45 224.96 L84.7 224.76 L84.95 225.1 L85.2 225.03 L85.45 225.3 L85.7 224.87 L85.95 225.51 L86.2 225.26 L86.45 225.15 L86.7 225.06 L86.95 225.04 L87.2 224.97 L87.45 225.11 L87.7 225.23 L87.95 225.19 L88.2 224.93 L88.45 225.18 L88.7 225.05 L88.95 225.28 L89.2 225.66 L89.45 225.39 L89.7 225.19 L89.95 224.9 L90.2 224.95 L90.45 224.9 L90.7 225.43 L90.95 225.1 L91.2 225.29 L91.45 225.14 L91.7 225.3 L91.95 225.59 L92.2 225.13 L92.45 225.21 L92.7 225.11 L92.95 225.48 L93.2 225.07 L93.45 225.05 L93.7 224.99 L93.95 224.99 L94.2 225.4 L94.45 225.87 L94.7 225.08 L94.95 225.51 L95.2 225.36 L95.45 225.06 L95.7 225.25 L95.95 225.26 L96.2 225.16 L96.45 225.74 L96.7 224.89 L96.95 225.4 L97.2 225.38 L97.45 225.18 L97.7 225.34 L97.95 225.51 L98.2 225.35 L98.45 225.4 L98.7 225.46 L98.95 224.86 L99.2 225.63 L99.45 225.81 L99.7 225.52 L99.95 225.53 L100.2 224.99 L100.45 225.27 L100.7 225.12 L100.95 225.17 L101.2 225.5 L101.45 225.11 L101.7 225.26 L101.95 224.86 L102.2 225.24 L102.45 225.29 L102.7 225.11 L102.95 225.1 L103.2 225.67 L103.45 224.98 L103.7 225.01 L103.95 225.05 L104.2 225.48 L104.45 225.67 L104.7 225.27 L104.95 225.03 L105.2 225.08 L105.45 225.39 L105.7 224.94 L105.95 225.44 L106.2 225.41 L106.45 225.09 L106.7 225.19 L106.95 225.19 L107.2 225.33 L107.45 224.72 L107.7 225.16 L107.95 224.76 L108.2 224.61 L108.45 224.72 L108.7 224.56 L108.95 224.27 L109.2 223.99 L109.45 223.95 L109.7 224.27 L109.95 224.13 L110.2 223.54 L110.45 223.32 L110.7 222.57 L110.95 222.24 L111.2 221.87 L111.45 221.1 L111.7 220.66 L111.95 220.45 L112.2 219.94 L112.45 219.38 L112.7 219.32 L112.95 218.82 L113.2 218.75 L113.45 218.18 L113.7 217.81 L113.95 217.66 L114.2 217.42 L114.45 217.23 L114.7 217.33 L114.95 217.72 L115.2 217.92 L115.45 218.35 L115.7 218.03 L115.95 218.66 L116.2 219.02 L116.45 219.52 L116.7 219.77 L116.95 220.17 L117.2 220.9 L117.45 221.23 L117.7 221.4 L117.95 222.42 L118.2 222.78 L118.45 222.83 L118.7 223.5 L118.95 223.47 L119.2 224.15 L119.45 224.09 L119.7 224.16 L119.95 224.41 L120.2 224.46 L120.45 224.78 L120.7 224.86 L120.95 224.91 L121.2 224.84 L121.45 224.21 L121.7 225.08 L121.95 224.68 L122.2 225.19 L122.45 225.41 L122.7 225.25 L122.95 225.13 L123.2 225.2 L123.45 225.23 L123.7 225.15 L123.95 225.16 L124.2 225.11 L124.45 225.59 L124.7 225.33 L124.95 225.56 L125.2 225.31 L125.45 225.39 L125.7 225.35 L125.95 225.5 L126.2 225.59 L126.45 225.47 L126.7 225.27 L126.95 225.26 L127.2 225.8 L127.45 225.38 L127.7 225.39 L127.95 225.78 L128.2 225.7 L128.45 225.59 L128.7 225.39 L128.95 226 L129.2 225.57 L129.45 225.61 L129.7 225.46 L129.95 225.19 L130.2 225.21 L130.45 225.59 L130.7 225.6 L130.95 225.46 L131.2 225.26 L131.45 225.2 L131.7 225.45 L131.95 225.2 L132.2 225.73 L132.45 225.78 L132.7 226.16 L132.95 225.73 L133.2 225.41 L133.45 225.35 L133.7 224.78 L133.95 225.41 L134.2 225.51 L134.45 225.76 L134.7 225.68 L134.95 225.68 L135.2 225.6 L135.45 225.7 L135.7 225.87 L135.95 225.32 L136.2 225.46 L136.45 225.25 L136.7 225.92 L136.95 225.85 L137.2 225.73 L137.45 225.3 L137.7 225.6 L137.95 225.51 L138.2 225.58 L138.45 225.52 L138.7 225.68 L138.95 225.48 L139.2 225.75 L139.45 225.62 L139.7 225.5 L139.95 225.54 L140.2 225.46 L140.45 225.74 L140.7 225.5 L140.95 225.62 L141.2 225.47 L141.45 225.23 L141.7 225.75 L141.95 225.32 L142.2 225.7 L142.45 225.64 L142.7 225.18 L142.95 225.33 L143.2 225.42 L143.45 225.35 L143.7 225.27 L143.95 225.69 L144.2 225.46 L144.45 225.6 L144.7 225.41 L144.95 225.56 L145.2 225.32 L145.45 225.47 L145.7 225.59 L145.95 225.46 L146.2 225.34 L146.45 225.19 L146.7 225.45 L146.95 225.46 L147.2 225.31 L147.45 225.17 L147.7 225.43 L147.95 225.82 L148.2 225.17 L148.45 225.26 L148.7 225.21 L148.95 224.49 L149.2 225 L149.45 224.72 L149.7 225.05 L149.95 224.52 L150.2 224.19 L150.45 224.04 L150.7 223.73 L150.95 223 L151.2 222.14 L151.45 219.99 L151.7 216.56 L151.95 210.11 L152.2 200.29 L152.45 188.67 L152.7 182.91 L152.95 188.77 L153.2 200.08 L153.45 210.31 L153.7 216.85 L153.95 220.26 L154.2 222.2 L154.45 223.16 L154.7 223.76 L154.95 224.12 L155.2 224.19 L155.45 224.11 L155.7 224.59 L155.95 224.42 L156.2 224.98 L156.45 225.05 L156.7 224.75 L156.95 225.33 L157.2 225.42 L157.45 225.29 L157.7 225.67 L157.95 225.74 L158.2 225.09 L158.45 225.6 L158.7 225.49 L158.95 225.5 L159.2 225.63 L159.45 225.28 L159.7 225.32 L159.95 225.27 L160.2 225.3 L160.45 225.45 L160.7 225.15 L160.95 225.25 L161.2 225.61 L161.45 225.47 L161.7 225.57 L161.95 225.07 L162.2 225.32 L162.45 225.37 L162.7 225.49 L162.95 225.36 L163.2 225.69 L163.45 225.47 L163.7 225.48 L163.95 225.48 L164.2 225.62 L164.45 225.36 L164.7 225.7 L164.95 225.55 L165.2 225.47 L165.45 225.44 L165.7 225.53 L165.95 225.63 L166.2 225.6 L166.45 225.46 L166.7 225.55 L166.95 225.37 L167.2 225.59 L167.45 225.29 L167.7 224.81 L167.95 225.52 L168.2 225.21 L168.45 224.88 L168.7 225.04 L168.95 224.82 L169.2 225.4 L169.45 224.95 L169.7 224.38 L169.95 224.72 L170.2 224.36 L170.45 224.7 L170.7 223.84 L170.95 223.35 L171.2 223.61 L171.45 223.24 L171.7 222.92 L171.95 222.21 L172.2 222.42 L172.45 222.33 L172.7 221.18 L172.95 221.49 L173.2 220.76 L173.45 221.1 L173.7 220.42 L173.95 220.09 L174.2 220.28 L174.45 220.14 L174.7 219.97 L174.95 220.41 L175.2 220.36 L175.45 220.34 L175.7 221.47 L175.95 221.23 L176.2 221.45 L176.45 221.9 L176.7 221.68 L176.95 221.84 L177.2 222.02 L177.45 221.77 L177.7 221.17 L177.95 219.82 L178.2 216.58 L178.45 212.49 L178.7 207.59 L178.95 204.2 L179.2 206.06 L179.45 210.59 L179.7 216 L179.95 219.58 L180.2 221.81 L180.45 222.8 L180.7 223.82 L180.95 224.04 L181.2 224.63 L181.45 224.64 L181.7 224.63 L181.95 225.13 L182.2 225.18 L182.45 224.97 L182.7 225.42 L182.95 225.15 L183.2 225.19 L183.45 225.33 L183.7 225.17 L183.95 225.27 L184.2 225.36 L184.45 225.75 L184.7 225.77 L184.95 225.4 L185.2 225.83 L185.45 225.48 L185.7 225.59 L185.95 225.71 L186.2 225.59 L186.45 226.07 L186.7 225.6 L186.95 225.3 L187.2 225.86 L187.45 225.49 L187.7 225.52 L187.95 224.93 L188.2 225.82 L188.45 225.78 L188.7 225.78 L188.95 225.83 L189.2 225.99 L189.45 225.61 L189.7 225.83 L189.95 225.47 L190.2 225.56 L190.45 225.87 L190.7 225.73 L190.95 225.35 L191.2 225.72 L191.45 225.61 L191.7 225.47 L191.95 225.75 L192.2 225.56 L192.45 225.31 L192.7 225.41 L192.95 226.04 L193.2 225.32 L193.45 225.71 L193.7 225.79 L193.95 225.8 L194.2 225.39 L194.45 225.59 L194.7 225.69 L194.95 225.83 L195.2 225.51 L195.45 225.4 L195.7 225.87 L195.95 225.89 L196.2 225.73 L196.45 225.51 L196.7 225.73 L196.95 225.66 L197.2 225.82 L197.45 225.36 L197.7 225.65 L197.95 225.59 L198.2 225.37 L198.45 225.66 L198.7 225.61 L198.95 225.5 L199.2 225.67 L199.45 225.26 L199.7 225.55 L199.95 225.65 L200.2 225.6 L200.45 225.76 L200.7 225.24 L200.95 225.15 L201.2 225.51 L201.45 225.54 L201.7 225.87 L201.95 225.51 L202.2 225.14 L202.45 225.45 L202.7 225.02 L202.95 224.8 L203.2 225.59 L203.45 224.95 L203.7 224.86 L203.95 224.59 L204.2 224.56 L204.45 223.86 L204.7 223.61 L204.95 222.57 L205.2 221.87 L205.45 221.8 L205.7 221.08 L205.95 220.14 L206.2 219.42 L206.45 218.9 L206.7 218.45 L206.95 218.97 L207.2 219.1 L207.45 219.6 L207.7 220.25 L207.95 221.14 L208.2 221.75 L208.45 222.48 L208.7 222.66 L208.95 223.56 L209.2 224.37 L209.45 224.13 L209.7 224.5 L209.95 224.95 L210.2 225.14 L210.45 225.2 L210.7 224.81 L210.95 225.35 L211.2 225.05 L211.45 225.18 L211.7 225.52 L211.95 225.37 L212.2 225.65 L212.45 226.19 L212.7 225.69 L212.95 225.7 L213.2 225.36 L213.45 225.43 L213.7 225.35 L213.95 225.48 L214.2 225.37 L214.45 225.48 L214.7 225.59 L214.95 225.42 L215.2 225.34 L215.45 225.36 L215.7 225.77 L215.95 225.69 L216.2 225.91 L216.45 225.91 L216.7 225.62 L216.95 225.84 L217.2 225.38 L217.45 226.21 L217.7 225.97 L217.95 225.66 L218.2 225.46 L218.45 225.8 L218.7 225.31 L218.95 225.55 L219.2 225.89 L219.45 225.74 L219.7 225.62 L219.95 225.94 L220.2 225.5 L220.45 225.79 L220.7 225.62 L220.95 225.54 L221.2 225.83 L221.45 225.51 L221.7 226.15 L221.95 225.6 L222.2 226.17 L222.45 225.49 L222.7 225.86 L222.95 225.46 L223.2 225.43 L223.45 225.75 L223.7 225.87 L223.95 225.43 L224.2 225.97 L224.45 225.53 L224.7 225.73 L224.95 225.77 L225.2 225.81 L225.45 225.27 L225.7 226.01 L225.95 225.76 L226.2 225.51 L226.45 225.35 L226.7 225.15 L226.95 225.17 L227.2 225.51 L227.45 225.22 L227.7 224.93 L227.95 224.93 L228.2 225.24 L228.45 224.65 L228.7 224.43 L228.95 224.71 L229.2 224.41 L229.45 224.26 L229.7 224.14 L229.95 224.01 L230.2 224.22 L230.45 224.53 L230.7 224.74 L230.95 225.02 L231.2 225.19 L231.45 225.23 L231.7 225.32 L231.95 225.12 L232.2 224.92 L232.45 225.31 L232.7 225.23 L232.95 225.29 L233.2 225.36 L233.45 225.11 L233.7 225.08 L233.95 225.22 L234.2 225.11 L234.45 224.68 L234.7 224.46 L234.95 223.53 L235.2 222.21 L235.45 220.96 L235.7 219.86 L235.95 218.45 L236.2 219.24 L236.45 220.64 L236.7 222.22 L236.95 223.01 L237.2 224.56 L237.45 224.73 L237.7 224.99 L237.95 225.19 L238.2 225.49 L238.45 225.45 L238.7 225.46 L238.95 225.83 L239.2 225.42 L239.45 225.38 L239.7 225.8 L239.95 225.8 L240.2 225.9 L240.45 225.44 L240.7 225.92 L240.95 225.8 L241.2 226.09 L241.45 225.43 L241.7 225.76 L241.95 225.66 L242.2 225.37 L242.45 225.57 L242.7 225.97 L242.95 225.63 L243.2 225.57 L243.45 225.92 L243.7 225.95 L243.95 225.95 L244.2 225.56 L244.45 225.72 L244.7 225.95 L244.95 225.58 L245.2 225.56 L245.45 225.9 L245.7 226.06 L245.95 225.46 L246.2 225.14 L246.45 225.38 L246.7 225.47 L246.95 225.66 L247.2 225.82 L247.45 225.64 L247.7 225.51 L247.95 225.69 L248.2 225.43 L248.45 225.62 L248.7 225.47 L248.95 226.18 L249.2 225.75 L249.45 225.36 L249.7 225.3 L249.95 225.39 L250.2 225.08 L250.45 225.22 L250.7 225.15 L250.95 225.42 L251.2 225.02 L251.45 224.8 L251.7 224.51 L251.95 224.34 L252.2 224.33 L252.45 224 L252.7 223.97 L252.95 223.21 L253.2 223.18 L253.45 222.6 L253.7 222.15 L253.95 221.36 L254.2 221.26 L254.45 221.57 L254.7 221.71 L254.95 221.56 L255.2 221.88 L255.45 221.87 L255.7 222.12 L255.95 222.27 L256.2 222.8 L256.45 222.76 L256.7 222.68 L256.95 222.66 L257.2 222.84 L257.45 222.78 L257.7 222.57 L257.95 223.26 L258.2 223.15 L258.45 223.37 L258.7 224 L258.95 224.21 L259.2 224.26 L259.45 224.66 L259.7 224.53 L259.95 224.82 L260.2 224.62 L260.45 225.51 L260.7 224.92 L260.95 225.57 L261.2 225.29 L261.45 225.31 L261.7 225.52 L261.95 225.65 L262.2 225.75 L262.45 226.03 L262.7 225.74 L262.95 225.87 L263.2 225.56 L263.45 225.86 L263.7 225.75 L263.95 225.62 L264.2 225.71 L264.45 225.73 L264.7 225.79 L264.95 225.85 L265.2 225.65 L265.45 225.61 L265.7 225.94 L265.95 225.41 L266.2 225.65 L266.45 226.13 L266.7 225.2 L266.95 225.65 L267.2 225.96 L267.45 225.45 L267.7 226.38 L267.95 225.25 L268.2 226.13 L268.45 226.16 L268.7 226.03 L268.95 225.78 L269.2 225.91 L269.45 225.63 L269.7 226.01 L269.95 225.59 L270.2 225.78 L270.45 226.06 L270.7 225.6 L270.95 225.76 L271.2 225.88 L271.45 225.55 L271.7 226.1 L271.95 225.92 L272.2 225.52 L272.45 225.84" stroke="#f01414" stroke-width="1.8" fill="none" stroke-linejoin="round"/>
<path d="M29.7 283.54 L29.95 283.58 L30.2 283.76 L30.45 283.6 L30.7 283.98 L30.95 283.63 L31.2 284.01 L31.45 283.8 L31.7 284.01 L31.95 283.72 L32.2 283.74 L32.45 283.61 L32.7 284.01 L32.95 284.1 L33.2 284.37 L33.45 284.2 L33.7 283.99 L33.95 283.9 L34.2 284.04 L34.45 283.96 L34.7 284.3 L34.95 284.2 L35.2 283.82 L35.45 283.87 L35.7 284.33 L35.95 284.11 L36.2 284 L36.45 284.33 L36.7 283.99 L36.95 284.03 L37.2 284 L37.45 283.68 L37.7 284.31 L37.95 283.87 L38.2 284.02 L38.45 283.99 L38.7 284.33 L38.95 284.16 L39.2 284.19 L39.45 283.83 L39.7 284.19 L39.95 283.89 L40.2 284.3 L40.45 284.32 L40.7 284.24 L40.95 284.71 L41.2 284.38 L41.45 284.41 L41.7 284.32 L41.95 284.25 L42.2 284.52 L42.45 284.56 L42.7 284.04 L42.95 284.56 L43.2 284.45 L43.45 284.56 L43.7 284.46 L43.95 284.09 L44.2 284.12 L44.45 284.78 L44.7 284.45 L44.95 284.09 L45.2 284.48 L45.45 284.33 L45.7 284.02 L45.95 283.93 L46.2 284.08 L46.45 284.5 L46.7 284.44 L46.95 284.4 L47.2 284.53 L47.45 284.6 L47.7 284.01 L47.95 284.42 L48.2 284.31 L48.45 284.22 L48.7 284.38 L48.95 284.48 L49.2 284.45 L49.45 284.2 L49.7 284.42 L49.95 284.97 L50.2 284.3 L50.45 284.16 L50.7 284.6 L50.95 284.68 L51.2 284.65 L51.45 284.3 L51.7 284.77 L51.95 284.38 L52.2 284.31 L52.45 284.43 L52.7 284.54 L52.95 284.72 L53.2 284.7 L53.45 284.56 L53.7 284.77 L53.95 284.58 L54.2 284.76 L54.45 284.26 L54.7 284.22 L54.95 284.73 L55.2 284.25 L55.45 284.49 L55.7 284.53 L55.95 284.44 L56.2 284.44 L56.45 284.84 L56.7 283.97 L56.95 284.71 L57.2 285.01 L57.45 284.5 L57.7 284.47 L57.95 284.62 L58.2 284.85 L58.45 284.17 L58.7 284.43 L58.95 284.34 L59.2 284.48 L59.45 284.37 L59.7 284.45 L59.95 284.17 L60.2 284.24 L60.45 284.04 L60.7 283.99 L60.95 284.05 L61.2 283.98 L61.45 283.69 L61.7 284.21 L61.95 283.75 L62.2 283.37 L62.45 283.8 L62.7 283.25 L62.95 283.37 L63.2 283.07 L63.45 282.91 L63.7 282.64 L63.95 282.16 L64.2 281.91 L64.45 281.85 L64.7 280.25 L64.95 279.84 L65.2 278.61 L65.45 276.41 L65.7 273.65 L65.95 270.7 L66.2 265.18 L66.45 259.43 L66.7 251.61 L66.95 243.31 L67.2 235.5 L67.45 229.54 L67.7 227.39 L67.95 229.51 L68.2 235.45 L68.45 243.37 L68.7 251.83 L68.95 259.2 L69.2 265.1 L69.45 270.16 L69.7 274.11 L69.95 276.59 L70.2 278.54 L70.45 279.73 L70.7 280.81 L70.95 281.63 L71.2 282.26 L71.45 282.44 L71.7 283.22 L71.95 283.02 L72.2 283.96 L72.45 283.67 L72.7 283.73 L72.95 283.66 L73.2 283.27 L73.45 283.98 L73.7 284.15 L73.95 284.62 L74.2 283.98 L74.45 284.77 L74.7 284.36 L74.95 284.64 L75.2 283.97 L75.45 284.61 L75.7 284.55 L75.95 284.82 L76.2 284.73 L76.45 284.49 L76.7 284.99 L76.95 284.96 L77.2 284.97 L77.45 285.08 L77.7 285.13 L77.95 284.91 L78.2 284.64 L78.45 284.65 L78.7 285.27 L78.95 285.15 L79.2 285.03 L79.45 284.93 L79.7 285.05 L79.95 285.06 L80.2 285 L80.45 284.93 L80.7 285.58 L80.95 285.16 L81.2 284.99 L81.45 284.85 L81.7 284.99 L81.95 285.32 L82.2 285.33 L82.45 285.13 L82.7 285.2 L82.95 285.13 L83.2 284.96 L83.45 285.5 L83.7 285.3 L83.95 285.77 L84.2 285.07 L84.45 285.21 L84.7 285.45 L84.95 285.21 L85.2 284.96 L85.45 285.06 L85.7 285.3 L85.95 285.36 L86.2 285.27 L86.45 285.52 L86.7 285.52 L86.95 285.38 L87.2 285.32 L87.45 285.26 L87.7 285.45 L87.95 285.53 L88.2 285.35 L88.45 285.44 L88.7 285.27 L88.95 285.04 L89.2 285.13 L89.45 285.53 L89.7 285.46 L89.95 285.72 L90.2 285.38 L90.45 285.56 L90.7 285.67 L90.95 285.6 L91.2 285.25 L91.45 285.35 L91.7 285.42 L91.95 285.18 L92.2 285.5 L92.45 285.63 L92.7 285.3 L92.95 285.84 L93.2 285.35 L93.45 285.37 L93.7 285.36 L93.95 285.26 L94.2 285.51 L94.45 285.43 L94.7 285.79 L94.95 285.56 L95.2 285.55 L95.45 285.38 L95.7 285.12 L95.95 285.42 L96.2 285.25 L96.45 285.65 L96.7 285.44 L96.95 285.81 L97.2 285.61 L97.45 285.63 L97.7 285.5 L97.95 285.49 L98.2 285.59 L98.45 285.65 L98.7 285.29 L98.95 285.56 L99.2 286.03 L99.45 285.43 L99.7 285.4 L99.95 285.3 L100.2 285.13 L100.45 285.71 L100.7 285.46 L100.95 285.51 L101.2 285.85 L101.45 286 L101.7 285.25 L101.95 285.67 L102.2 285.57 L102.45 285.52 L102.7 285.53 L102.95 285.42 L103.2 285.77 L103.45 285.55 L103.7 285.48 L103.95 285.68 L104.2 285.59 L104.45 285.49 L104.7 285.45 L104.95 285.75 L105.2 285.47 L105.45 285.32 L105.7 285.14 L105.95 285.23 L106.2 285.05 L106.45 285.29 L106.7 285.29 L106.95 284.75 L107.2 285.16 L107.45 285.25 L107.7 285.08 L107.95 284.75 L108.2 285.14 L108.45 284.58 L108.7 284.31 L108.95 284.15 L109.2 284.17 L109.45 284.12 L109.7 283.87 L109.95 283.32 L110.2 282.66 L110.45 282.41 L110.7 281.99 L110.95 281.82 L111.2 281.21 L111.45 281.45 L111.7 281.49 L111.95 281.32 L112.2 281.49 L112.45 281.18 L112.7 280.92 L112.95 280.68 L113.2 280.24 L113.45 278.84 L113.7 276.55 L113.95 274.47 L114.2 271.61 L114.45 270.22 L114.7 269.83 L114.95 271.19 L115.2 273.95 L115.45 276.13 L115.7 278.18 L115.95 279.55 L116.2 280.84 L116.45 281.25 L116.7 281.44 L116.95 281.44 L117.2 281.93 L117.45 281.7 L117.7 281.93 L117.95 282.74 L118.2 283.2 L118.45 283.38 L118.7 283.31 L118.95 283.91 L119.2 284.46 L119.45 284.57 L119.7 285.1 L119.95 284.61 L120.2 285.18 L120.45 284.98 L120.7 285.48 L120.95 285.23 L121.2 285.52 L121.45 285.18 L121.7 285.05 L121.95 285.14 L122.2 285.28 L122.45 285.21 L122.7 285.71 L122.95 285.76 L123.2 285.54 L123.45 285.27 L123.7 285.49 L123.95 285.37 L124.2 285.85 L124.45 285.61 L124.7 285.66 L124.95 285.47 L125.2 285.13 L125.45 285.41 L125.7 285.34 L125.95 285.67 L126.2 285.62 L126.45 285.43 L126.7 285.52 L126.95 285.96 L127.2 285.41 L127.45 285.42 L127.7 285.58 L127.95 285.48 L128.2 285.54 L128.45 285.76 L128.7 286.03 L128.95 285.26 L129.2 285.65 L129.45 285.66 L129.7 285.64 L129.95 285.62 L130.2 285.59 L130.45 285.89 L130.7 285.57 L130.95 285.64 L131.2 285.67 L131.45 285.7 L131.7 285.64 L131.95 285.9 L132.2 285.68 L132.45 285.72 L132.7 285.67 L132.95 285.46 L133.2 285.5 L133.45 285.46 L133.7 285.73 L133.95 285.53 L134.2 285.46 L134.45 285.74 L134.7 285.81 L134.95 285.31 L135.2 286.07 L135.45 285.7 L135.7 285.67 L135.95 285.93 L136.2 285.71 L136.45 285.56 L136.7 286.18 L136.95 285.46 L137.2 285.68 L137.45 285.88 L137.7 285.46 L137.95 285.68 L138.2 285.78 L138.45 286.23 L138.7 285.5 L138.95 285.68 L139.2 285.84 L139.45 285.71 L139.7 285.43 L139.95 285.78 L140.2 285.71 L140.45 285.79 L140.7 285.93 L140.95 285.91 L141.2 285.77 L141.45 285.75 L141.7 285.43 L141.95 285.64 L142.2 285.72 L142.45 285.58 L142.7 285.68 L142.95 285.48 L143.2 285.99 L143.45 286.12 L143.7 285.55 L143.95 285.72 L144.2 285.57 L144.45 285.9 L144.7 285.7 L144.95 285.62 L145.2 285.54 L145.45 285.6 L145.7 285.34 L145.95 285.69 L146.2 285.37 L146.45 285.63 L146.7 285.52 L146.95 285.7 L147.2 285.43 L147.45 285.63 L147.7 285.16 L147.95 285.46 L148.2 285.23 L148.45 285.26 L148.7 285.16 L148.95 285.27 L149.2 284.52 L149.45 284.91 L149.7 284.35 L149.95 284.73 L150.2 283.71 L150.45 283.46 L150.7 282.63 L150.95 282.35 L151.2 280.28 L151.45 278.69 L151.7 276.16 L151.95 273.15 L152.2 270.73 L152.45 268.78 L152.7 267.75 L152.95 268.84 L153.2 270.72 L153.45 273.55 L153.7 276.2 L153.95 278.74 L154.2 280.99 L154.45 282.07 L154.7 283.04 L154.95 283.55 L155.2 283.98 L155.45 284.79 L155.7 284.44 L155.95 284.65 L156.2 284.95 L156.45 284.98 L156.7 285.58 L156.95 284.7 L157.2 285.36 L157.45 285.49 L157.7 285.13 L157.95 285.27 L158.2 285.54 L158.45 285.83 L158.7 285.29 L158.95 285.17 L159.2 285.75 L159.45 285.89 L159.7 285.49 L159.95 285.09 L160.2 285.91 L160.45 285.56 L160.7 285.86 L160.95 285.61 L161.2 285.55 L161.45 285.54 L161.7 285.97 L161.95 285.96 L162.2 285.18 L162.45 285.45 L162.7 286.05 L162.95 285.58 L163.2 285.36 L163.45 285.67 L163.7 285.64 L163.95 285.65 L164.2 285.56 L164.45 285.6 L164.7 285.57 L164.95 285.74 L165.2 285.48 L165.45 285.6 L165.7 285.63 L165.95 285.94 L166.2 285.73 L166.45 285.62 L166.7 285.76 L166.95 285.72 L167.2 285.86 L167.45 285.73 L167.7 286 L167.95 285.89 L168.2 285.58 L168.45 285.48 L168.7 285.75 L168.95 285.66 L169.2 285.5 L169.45 285.18 L169.7 285.08 L169.95 285.53 L170.2 285.59 L170.45 285.56 L170.7 285.06 L170.95 285.52 L171.2 285.12 L171.45 285.26 L171.7 285.19 L171.95 284.82 L172.2 284.74 L172.45 284.24 L172.7 284.26 L172.95 283.73 L173.2 283.73 L173.45 282.95 L173.7 282.17 L173.95 280.76 L174.2 278.93 L174.45 277.27 L174.7 275.15 L174.95 273.65 L175.2 272.58 L175.45 272.34 L175.7 273.63 L175.95 275.3 L176.2 277.01 L176.45 278.87 L176.7 280.29 L176.95 280.64 L177.2 281 L177.45 280.5 L177.7 280.52 L177.95 279.7 L178.2 278.38 L178.45 277.95 L178.7 277.24 L178.95 276.61 L179.2 276.94 L179.45 277.6 L179.7 279.09 L179.95 279.79 L180.2 281.19 L180.45 282.68 L180.7 283.08 L180.95 283.8 L181.2 284.14 L181.45 284.26 L181.7 284.76 L181.95 285.04 L182.2 284.85 L182.45 285.25 L182.7 285.53 L182.95 285.55 L183.2 285.02 L183.45 285.2 L183.7 285.1 L183.95 285.72 L184.2 285.65 L184.45 285.7 L184.7 285.37 L184.95 285.33 L185.2 285.62 L185.45 285.64 L185.7 285.45 L185.95 285.68 L186.2 285.8 L186.45 285.72 L186.7 285.45 L186.95 285.23 L187.2 285.64 L187.45 285.74 L187.7 285.66 L187.95 285.63 L188.2 285.58 L188.45 285.89 L188.7 285.73 L188.95 285.77 L189.2 285.53 L189.45 285.62 L189.7 285.79 L189.95 285.54 L190.2 285.48 L190.45 285.69 L190.7 286.03 L190.95 285.81 L191.2 286.09 L191.45 285.74 L191.7 285.71 L191.95 285.47 L192.2 285.65 L192.45 286.09 L192.7 285.85 L192.95 285.94 L193.2 285.94 L193.45 285.78 L193.7 285.74 L193.95 285.81 L194.2 285.93 L194.45 285.88 L194.7 285.89 L194.95 285.81 L195.2 285.61 L195.45 285.72 L195.7 285.57 L195.95 285.99 L196.2 285.31 L196.45 285.72 L196.7 286.29 L196.95 285.69 L197.2 285.51 L197.45 285.75 L197.7 286.04 L197.95 285.71 L198.2 285.88 L198.45 285.76 L198.7 285.65 L198.95 286.42 L199.2 285.73 L199.45 285.59 L199.7 285.59 L199.95 285.78 L200.2 285.77 L200.45 285.84 L200.7 285.69 L200.95 285.33 L201.2 285.74 L201.45 285.54 L201.7 285.53 L201.95 285.24 L202.2 285.41 L202.45 285.35 L202.7 285.47 L202.95 285.12 L203.2 285.4 L203.45 285.37 L203.7 285.03 L203.95 285.05 L204.2 284.89 L204.45 285.14 L204.7 284.2 L204.95 284.45 L205.2 283.86 L205.45 283.75 L205.7 283.55 L205.95 282.65 L206.2 282.14 L206.45 281.14 L206.7 280.9 L206.95 279.77 L207.2 278.94 L207.45 277.62 L207.7 277.11 L207.95 277.34 L208.2 277.17 L208.45 277.6 L208.7 278.44 L208.95 278.94 L209.2 280.29 L209.45 281 L209.7 281.92 L209.95 282.39 L210.2 283.27 L210.45 283.51 L210.7 284.3 L210.95 284.67 L211.2 284.88 L211.45 285 L211.7 285.18 L211.95 284.56 L212.2 285.43 L212.45 285.26 L212.7 285.4 L212.95 285.37 L213.2 285.17 L213.45 285.39 L213.7 285.69 L213.95 285.88 L214.2 285.46 L214.45 285.42 L214.7 285.95 L214.95 285.46 L215.2 286.12 L215.45 285.69 L215.7 285.5 L215.95 285.92 L216.2 286.09 L216.45 285.41 L216.7 286.08 L216.95 285.68 L217.2 286.07 L217.45 285.67 L217.7 285.41 L217.95 285.88 L218.2 285.97 L218.45 286.24 L218.7 286.16 L218.95 285.93 L219.2 285.73 L219.45 285.67 L219.7 285.72 L219.95 285.61 L220.2 285.73 L220.45 285.23 L220.7 285.83 L220.95 285.79 L221.2 286.36 L221.45 285.96 L221.7 285.69 L221.95 285.92 L222.2 285.52 L222.45 285.66 L222.7 285.38 L222.95 286.1 L223.2 285.91 L223.45 285.52 L223.7 285.76 L223.95 285.98 L224.2 285.87 L224.45 285.84 L224.7 285.56 L224.95 285.6 L225.2 285.75 L225.45 285.92 L225.7 285.52 L225.95 285.44 L226.2 285.92 L226.45 285.44 L226.7 285.86 L226.95 285.64 L227.2 285.73 L227.45 285.87 L227.7 285.55 L227.95 285.47 L228.2 284.95 L228.45 284.82 L228.7 284.88 L228.95 284.78 L229.2 284.39 L229.45 284.19 L229.7 283.3 L229.95 282.83 L230.2 282.61 L230.45 282.1 L230.7 281.97 L230.95 281.85 L231.2 282.56 L231.45 282.49 L231.7 283.26 L231.95 283.25 L232.2 284.18 L232.45 284.03 L232.7 284.68 L232.95 284.32 L233.2 284.67 L233.45 285.05 L233.7 284.57 L233.95 284.64 L234.2 284.34 L234.45 283.68 L234.7 283.95 L234.95 283.63 L235.2 282.93 L235.45 282.96 L235.7 282.41 L235.95 282.25 L236.2 282.54 L236.45 282.61 L236.7 283.6 L236.95 283.14 L237.2 284.04 L237.45 284.46 L237.7 284.12 L237.95 284.44 L238.2 285.17 L238.45 285.11 L238.7 285.43 L238.95 285.69 L239.2 285.43 L239.45 285.33 L239.7 285.01 L239.95 285.69 L240.2 285.46 L240.45 285.76 L240.7 285.75 L240.95 285.41 L241.2 286.11 L241.45 285.98 L241.7 285.93 L241.95 285.49 L242.2 285.67 L242.45 285.65 L242.7 285.68 L242.95 285.53 L243.2 285.87 L243.45 285.83 L243.7 285.86 L243.95 285.67 L244.2 286.06 L244.45 285.82 L244.7 285.18 L244.95 285.63 L245.2 285.76 L245.45 285.98 L245.7 285.7 L245.95 285.7 L246.2 285.61 L246.45 285.89 L246.7 285.64 L246.95 285.6 L247.2 285.55 L247.45 285.83 L247.7 285.58 L247.95 285.31 L248.2 285.8 L248.45 285.49 L248.7 285.69 L248.95 285.67 L249.2 285.82 L249.45 285.75 L249.7 285.35 L249.95 285.38 L250.2 285.06 L250.45 285.61 L250.7 285.22 L250.95 285.27 L251.2 284.69 L251.45 284.05 L251.7 284.52 L251.95 283.81 L252.2 283.36 L252.45 282.82 L252.7 282.37 L252.95 281.74 L253.2 280.67 L253.45 280.73 L253.7 279.97 L253.95 279.78 L254.2 280.28 L254.45 280.33 L254.7 280.42 L254.95 280.53 L255.2 281.41 L255.45 281.88 L255.7 282.06 L255.95 282.01 L256.2 282.23 L256.45 282.16 L256.7 282.47 L256.95 282.57 L257.2 282.63 L257.45 282.33 L257.7 282.74 L257.95 283.09 L258.2 283.19 L258.45 283.62 L258.7 284.46 L258.95 284.36 L259.2 284.79 L259.45 284.73 L259.7 285.03 L259.95 284.81 L260.2 285.31 L260.45 285.67 L260.7 285.95 L260.95 285.81 L261.2 285.75 L261.45 285.65 L261.7 285.53 L261.95 285.66 L262.2 285.85 L262.45 285.56 L262.7 285.96 L262.95 285.55 L263.2 285.39 L263.45 285.57 L263.7 285.44 L263.95 285.51 L264.2 286.07 L264.45 285.79 L264.7 285.89 L264.95 286.1 L265.2 286.13 L265.45 285.75 L265.7 286.16 L265.95 285.96 L266.2 285.88 L266.45 285.98 L266.7 285.58 L266.95 285.72 L267.2 285.87 L267.45 286.03 L267.7 285.82 L267.95 285.88 L268.2 286.12 L268.45 286.22 L268.7 286.09 L268.95 286.2 L269.2 285.83 L269.45 285.86 L269.7 286 L269.95 285.86 L270.2 285.82 L270.45 286.3 L270.7 285.89 L270.95 285.72 L271.2 286.05 L271.45 286.34 L271.7 285.96 L271.95 286.21 L272.2 285.85 L272.45 285.84" stroke="#0a0a0a" stroke-width="1.8" fill="none" stroke-linejoin="round"/>
<path d="M306.5 82.3 L306.72 82.14 L307.03 81.94 L307.39 81.69 L307.77 81.41 L308.16 81.11 L308.5 80.8 L308.81 80.49 L309.11 80.16 L309.4 79.81 L309.69 79.44 L309.99 79.04 L310.3 78.6 L310.62 78.13 L310.96 77.64 L311.3 77.11 L311.64 76.55 L311.98 75.95 L312.3 75.3 L312.62 74.59 L312.93 73.82 L313.24 73.01 L313.54 72.17 L313.83 71.33 L314.1 70.5 L314.36 69.68 L314.6 68.85 L314.84 68.01 L315.06 67.17 L315.28 66.34 L315.5 65.5 L315.71 64.66 L315.92 63.81 L316.12 62.97 L316.31 62.13 L316.51 61.3 L316.7 60.5 L316.89 59.7 L317.09 58.89 L317.27 58.09 L317.46 57.33 L317.64 56.63 L317.8 56 L317.95 55.45 L318.1 54.95 L318.23 54.51 L318.36 54.13 L318.48 53.79 L318.6 53.5 L318.71 53.26 L318.81 53.08 L318.91 52.94 L319.01 52.86 L319.1 52.81 L319.2 52.8 L319.3 52.83 L319.4 52.9 L319.49 53.02 L319.59 53.17 L319.69 53.37 L319.8 53.6 L319.91 53.88 L320.03 54.21 L320.15 54.58 L320.27 54.98 L320.39 55.39 L320.5 55.8 L320.6 56.19 L320.7 56.58 L320.79 56.97 L320.88 57.41 L320.98 57.91 L321.1 58.5 L321.23 59.21 L321.37 60.02 L321.53 60.9 L321.68 61.8 L321.84 62.68 L322 63.5 L322.16 64.28 L322.33 65.04 L322.49 65.79 L322.66 66.51 L322.83 67.18 L323 67.8 L323.17 68.35 L323.34 68.86 L323.51 69.31 L323.67 69.73 L323.84 70.13 L324 70.5 L324.15 70.84 L324.28 71.14 L324.41 71.42 L324.55 71.68 L324.71 71.93 L324.9 72.2 L325.13 72.48 L325.39 72.77 L325.66 73.05 L325.95 73.32 L326.23 73.58 L326.5 73.8 L326.74 74 L326.95 74.17 L327.16 74.32 L327.39 74.46 L327.66 74.58 L328 74.7 L328.41 74.81 L328.89 74.91 L329.41 74.99 L329.94 75.07 L330.48 75.14 L331 75.2 L331.41 75.25 L331.7 75.27 L332 75.29 L332.41 75.31 L333.04 75.35 L334 75.4 L335.32 75.49 L336.93 75.6 L338.75 75.73 L340.74 75.84 L342.84 75.94 L345 76 L347.3 76.02 L349.81 76.01 L352.44 75.99 L355.07 75.94 L357.63 75.88 L360 75.8 L362.22 75.71 L364.37 75.59 L366.44 75.46 L368.41 75.32 L370.27 75.16 L372 75 L373.6 74.84 L375.07 74.7 L376.44 74.54 L377.7 74.35 L378.89 74.11 L380 73.8 L381.02 73.42 L381.93 72.97 L382.75 72.47 L383.52 71.94 L384.26 71.38 L385 70.8 L385.75 70.16 L386.49 69.43 L387.21 68.68 L387.87 67.96 L388.48 67.31 L389 66.8 L389.42 66.43 L389.73 66.15 L389.99 65.95 L390.21 65.82 L390.44 65.74 L390.7 65.7 L390.97 65.7 L391.23 65.74 L391.49 65.84 L391.77 65.99 L392.1 66.21 L392.5 66.5 L392.98 66.89 L393.52 67.38 L394.11 67.93 L394.73 68.51 L395.37 69.08 L396 69.6 L396.64 70.09 L397.3 70.58 L397.97 71.06 L398.65 71.52 L399.33 71.94 L400 72.3 L400.66 72.61 L401.3 72.86 L401.94 73.08 L402.59 73.27 L403.28 73.44 L404 73.6 L404.76 73.76 L405.56 73.9 L406.38 74.02 L407.22 74.12 L408.1 74.18 L409 74.2 L409.95 74.17 L410.96 74.09 L412 73.97 L413.04 73.83 L414.05 73.67 L415 73.5 L415.9 73.34 L416.78 73.18 L417.62 73.01 L418.44 72.8 L419.24 72.53 L420 72.2 L420.73 71.77 L421.44 71.24 L422.11 70.66 L422.76 70.06 L423.39 69.5 L424 69 L424.58 68.53 L425.14 68.05 L425.67 67.59 L426.19 67.21 L426.7 66.93 L427.2 66.8 L427.68 66.84 L428.12 67.02 L428.55 67.31 L428.99 67.67 L429.47 68.08 L430 68.5 L430.6 68.97 L431.24 69.54 L431.93 70.14 L432.62 70.75 L433.32 71.32 L434 71.8 L434.66 72.2 L435.31 72.54 L435.96 72.84 L436.62 73.11 L437.3 73.36 L438 73.6 L438.68 73.82 L439.31 74.01 L439.96 74.19 L440.69 74.34 L441.55 74.48 L442.6 74.6 L443.93 74.71 L445.5 74.81 L447.21 74.89 L448.94 74.95 L450.57 74.99 L452 75 L453.22 74.99 L454.31 74.96 L455.31 74.9 L456.24 74.82 L457.13 74.72 L458 74.6 L458.85 74.42 L459.65 74.17 L460.41 73.91 L461.13 73.66 L461.79 73.48 L462.4 73.4 L462.91 73.45 L463.31 73.6 L463.66 73.81 L464.02 74.05 L464.45 74.29 L465 74.5 L465.64 74.69 L466.3 74.89 L467.04 75.09 L467.87 75.28 L468.85 75.45 L470 75.6 L471.26 75.72 L472.59 75.82 L474.06 75.91 L475.74 75.98 L477.7 76.04 L480 76.1 L482.54 76.15 L485.24 76.19 L488.22 76.22 L491.59 76.25 L495.48 76.28 L500 76.3 L505.79 76.32 L512.89 76.34 L520.5 76.36 L527.83 76.38 L534.1 76.39 L538.5 76.4" stroke="#d21ed2" stroke-width="1.25" fill="none" stroke-linejoin="round"/>
<path d="M306.3 137.7 L306.48 137.52 L306.73 137.28 L307.02 136.99 L307.34 136.67 L307.67 136.34 L308 136 L308.33 135.66 L308.69 135.32 L309.06 134.96 L309.42 134.57 L309.77 134.15 L310.1 133.7 L310.4 133.21 L310.68 132.68 L310.94 132.12 L311.2 131.54 L311.45 130.93 L311.7 130.3 L311.95 129.65 L312.19 128.98 L312.43 128.28 L312.66 127.56 L312.88 126.8 L313.1 126 L313.31 125.16 L313.52 124.29 L313.72 123.39 L313.91 122.45 L314.11 121.49 L314.3 120.5 L314.49 119.47 L314.69 118.39 L314.88 117.28 L315.06 116.17 L315.24 115.07 L315.4 114 L315.55 112.96 L315.69 111.93 L315.82 110.91 L315.95 109.91 L316.08 108.94 L316.2 108 L316.32 107.11 L316.43 106.25 L316.54 105.42 L316.66 104.61 L316.77 103.8 L316.9 103 L317.04 102.18 L317.19 101.34 L317.35 100.51 L317.51 99.71 L317.66 98.97 L317.8 98.3 L317.92 97.72 L318.04 97.2 L318.14 96.74 L318.25 96.32 L318.37 95.91 L318.5 95.5 L318.65 95.06 L318.82 94.6 L319 94.15 L319.18 93.76 L319.35 93.46 L319.5 93.3 L319.64 93.29 L319.76 93.41 L319.88 93.62 L319.99 93.89 L320.09 94.2 L320.2 94.5 L320.31 94.8 L320.41 95.11 L320.51 95.46 L320.6 95.85 L320.7 96.29 L320.8 96.8 L320.9 97.38 L321 98.02 L321.1 98.71 L321.2 99.45 L321.3 100.21 L321.4 101 L321.5 101.82 L321.59 102.67 L321.69 103.56 L321.79 104.46 L321.89 105.38 L322 106.3 L322.12 107.23 L322.26 108.2 L322.39 109.17 L322.53 110.14 L322.67 111.09 L322.8 112 L322.92 112.89 L323.04 113.77 L323.15 114.64 L323.26 115.47 L323.38 116.26 L323.5 117 L323.63 117.68 L323.75 118.31 L323.88 118.91 L324.01 119.46 L324.15 119.99 L324.3 120.5 L324.45 120.97 L324.6 121.38 L324.76 121.76 L324.92 122.14 L325.1 122.55 L325.3 123 L325.52 123.52 L325.76 124.09 L326.01 124.68 L326.27 125.27 L326.54 125.82 L326.8 126.3 L327.06 126.71 L327.32 127.08 L327.58 127.41 L327.85 127.72 L328.12 128.01 L328.4 128.3 L328.69 128.59 L328.98 128.86 L329.27 129.13 L329.58 129.37 L329.89 129.6 L330.2 129.8 L330.52 129.98 L330.86 130.13 L331.2 130.27 L331.54 130.39 L331.88 130.5 L332.2 130.6 L332.51 130.69 L332.81 130.76 L333.1 130.82 L333.39 130.87 L333.69 130.93 L334 131 L334.24 131.07 L334.39 131.15 L334.55 131.22 L334.81 131.31 L335.26 131.4 L336 131.5 L336.91 131.63 L337.89 131.78 L339.06 131.94 L340.56 132.1 L342.49 132.22 L345 132.3 L348.38 132.33 L352.59 132.33 L357.25 132.31 L361.96 132.26 L366.34 132.19 L370 132.1 L372.95 131.99 L375.52 131.86 L377.75 131.71 L379.7 131.55 L381.44 131.38 L383 131.2 L384.31 131.01 L385.3 130.81 L386.07 130.59 L386.72 130.38 L387.33 130.18 L388 130 L388.71 129.82 L389.38 129.63 L390.01 129.44 L390.62 129.3 L391.22 129.21 L391.8 129.2 L392.35 129.3 L392.84 129.48 L393.33 129.72 L393.82 129.99 L394.37 130.26 L395 130.5 L395.67 130.73 L396.35 130.96 L397.07 131.2 L397.9 131.43 L398.86 131.63 L400 131.8 L401.4 131.94 L403.04 132.07 L404.81 132.18 L406.63 132.25 L408.39 132.3 L410 132.3 L411.47 132.27 L412.89 132.21 L414.25 132.11 L415.56 131.98 L416.81 131.81 L418 131.6 L419.14 131.33 L420.23 130.99 L421.26 130.61 L422.23 130.21 L423.14 129.84 L424 129.5 L424.78 129.17 L425.49 128.82 L426.13 128.48 L426.74 128.19 L427.32 127.99 L427.9 127.9 L428.44 127.95 L428.92 128.12 L429.38 128.38 L429.86 128.68 L430.38 129 L431 129.3 L431.7 129.61 L432.47 129.96 L433.28 130.33 L434.14 130.69 L435.05 131.02 L436 131.3 L436.98 131.54 L437.98 131.76 L439.02 131.96 L440.13 132.11 L441.32 132.23 L442.6 132.3 L444.04 132.31 L445.65 132.27 L447.34 132.19 L449.01 132.07 L450.6 131.94 L452 131.8 L453.22 131.64 L454.31 131.46 L455.31 131.25 L456.24 131.03 L457.13 130.81 L458 130.6 L458.84 130.36 L459.61 130.07 L460.35 129.78 L461.05 129.53 L461.73 129.36 L462.4 129.3 L463.02 129.39 L463.57 129.6 L464.1 129.89 L464.65 130.22 L465.27 130.53 L466 130.8 L466.72 131.02 L467.38 131.23 L468.1 131.43 L469.02 131.63 L470.28 131.82 L472 132 L473.95 132.18 L475.98 132.35 L478.34 132.51 L481.3 132.67 L485.1 132.84 L490 133 L496.88 133.18 L505.7 133.37 L515.38 133.56 L524.8 133.74 L532.87 133.89 L538.5 134" stroke="#2323cf" stroke-width="1.25" fill="none" stroke-linejoin="round"/>
<path d="M306.3 186.6 L306.48 186.39 L306.73 186.1 L307.02 185.76 L307.34 185.37 L307.67 184.94 L308 184.5 L308.33 184.02 L308.69 183.49 L309.06 182.92 L309.42 182.34 L309.77 181.76 L310.1 181.2 L310.4 180.67 L310.68 180.15 L310.94 179.63 L311.2 179.11 L311.45 178.57 L311.7 178 L311.95 177.41 L312.19 176.8 L312.43 176.17 L312.66 175.53 L312.88 174.88 L313.1 174.2 L313.31 173.51 L313.52 172.81 L313.72 172.09 L313.91 171.36 L314.11 170.59 L314.3 169.8 L314.49 168.97 L314.67 168.11 L314.86 167.22 L315.04 166.31 L315.22 165.41 L315.4 164.5 L315.58 163.59 L315.76 162.67 L315.94 161.75 L316.13 160.83 L316.31 159.91 L316.5 159 L316.7 158.08 L316.91 157.15 L317.12 156.22 L317.33 155.32 L317.52 154.47 L317.7 153.7 L317.86 153 L318 152.36 L318.13 151.77 L318.26 151.23 L318.38 150.74 L318.5 150.3 L318.62 149.9 L318.74 149.53 L318.86 149.21 L318.97 148.95 L319.08 148.78 L319.2 148.7 L319.32 148.72 L319.43 148.83 L319.54 149.02 L319.66 149.28 L319.78 149.61 L319.9 150 L320.03 150.45 L320.16 150.98 L320.29 151.57 L320.43 152.22 L320.57 152.93 L320.7 153.7 L320.83 154.55 L320.97 155.49 L321.1 156.48 L321.23 157.5 L321.37 158.52 L321.5 159.5 L321.63 160.47 L321.77 161.46 L321.91 162.44 L322.04 163.39 L322.17 164.28 L322.3 165.1 L322.42 165.83 L322.54 166.49 L322.65 167.09 L322.76 167.65 L322.88 168.18 L323 168.7 L323.12 169.19 L323.24 169.64 L323.36 170.06 L323.49 170.46 L323.63 170.87 L323.8 171.3 L324 171.75 L324.21 172.23 L324.45 172.7 L324.7 173.16 L324.95 173.6 L325.2 174 L325.45 174.36 L325.71 174.7 L325.98 175.01 L326.24 175.29 L326.52 175.56 L326.8 175.8 L327.09 176.02 L327.38 176.21 L327.68 176.38 L327.98 176.53 L328.29 176.67 L328.6 176.8 L328.91 176.91 L329.2 177.01 L329.5 177.09 L329.82 177.17 L330.18 177.23 L330.6 177.3 L331 177.36 L331.35 177.4 L331.74 177.44 L332.25 177.48 L332.98 177.53 L334 177.6 L335.35 177.71 L336.96 177.84 L338.77 177.99 L340.76 178.13 L342.85 178.24 L345 178.3 L347.3 178.31 L349.81 178.29 L352.44 178.24 L355.07 178.17 L357.63 178.09 L360 178 L362.23 177.9 L364.41 177.79 L366.5 177.67 L368.48 177.53 L370.32 177.37 L372 177.2 L373.48 177.03 L374.78 176.87 L375.94 176.69 L377 176.47 L378.01 176.18 L379 175.8 L379.96 175.33 L380.85 174.77 L381.69 174.16 L382.48 173.48 L383.25 172.76 L384 172 L384.74 171.15 L385.46 170.18 L386.14 169.17 L386.8 168.17 L387.42 167.26 L388 166.5 L388.53 165.87 L389.01 165.3 L389.46 164.83 L389.88 164.44 L390.29 164.16 L390.7 164 L391.09 163.97 L391.45 164.06 L391.8 164.25 L392.16 164.53 L392.55 164.89 L393 165.3 L393.51 165.81 L394.08 166.43 L394.68 167.13 L395.29 167.85 L395.9 168.55 L396.5 169.2 L397.08 169.79 L397.65 170.37 L398.22 170.94 L398.8 171.48 L399.39 172 L400 172.5 L400.64 172.98 L401.3 173.44 L401.97 173.88 L402.65 174.29 L403.33 174.67 L404 175 L404.64 175.3 L405.26 175.56 L405.88 175.79 L406.52 175.98 L407.22 176.12 L408 176.2 L408.9 176.22 L409.89 176.19 L410.94 176.11 L412 175.98 L413.03 175.81 L414 175.6 L414.9 175.36 L415.78 175.1 L416.62 174.79 L417.44 174.43 L418.24 174.01 L419 173.5 L419.72 172.89 L420.39 172.18 L421.04 171.41 L421.67 170.6 L422.32 169.78 L423 169 L423.73 168.15 L424.49 167.19 L425.26 166.23 L426.01 165.37 L426.74 164.72 L427.4 164.4 L427.99 164.46 L428.51 164.84 L429.01 165.43 L429.49 166.13 L429.98 166.85 L430.5 167.5 L431.05 168.11 L431.62 168.76 L432.19 169.42 L432.78 170.09 L433.38 170.72 L434 171.3 L434.58 171.81 L435.11 172.28 L435.66 172.72 L436.28 173.14 L437.04 173.56 L438 174 L439.22 174.49 L440.67 175.02 L442.25 175.56 L443.89 176.04 L445.5 176.44 L447 176.7 L448.41 176.8 L449.8 176.78 L451.17 176.67 L452.5 176.5 L453.78 176.3 L455 176.1 L456.18 175.86 L457.34 175.53 L458.45 175.18 L459.49 174.86 L460.45 174.61 L461.3 174.5 L461.99 174.55 L462.51 174.71 L462.95 174.96 L463.38 175.25 L463.87 175.54 L464.5 175.8 L465.23 176.04 L466 176.29 L466.82 176.54 L467.75 176.79 L468.8 177.01 L470 177.2 L471.29 177.35 L472.63 177.47 L474.09 177.56 L475.76 177.64 L477.7 177.72 L480 177.8 L482.54 177.88 L485.24 177.96 L488.22 178.03 L491.59 178.09 L495.48 178.15 L500 178.2 L505.79 178.25 L512.89 178.29 L520.5 178.32 L527.83 178.36 L534.1 178.38 L538.5 178.4" stroke="#dc2828" stroke-width="1.25" fill="none" stroke-linejoin="round"/>
<path d="M306.7 301.5 L306.94 301.18 L307.28 300.78 L307.67 300.28 L308.11 299.67 L308.56 298.91 L309 298 L309.44 296.88 L309.92 295.57 L310.41 294.12 L310.89 292.59 L311.36 291.03 L311.8 289.5 L312.21 288 L312.59 286.5 L312.96 284.97 L313.32 283.39 L313.66 281.74 L314 280 L314.33 278.27 L314.64 276.59 L314.95 274.84 L315.24 272.91 L315.53 270.67 L315.8 268 L316.06 264.88 L316.31 261.41 L316.54 257.62 L316.77 253.59 L316.99 249.37 L317.2 245 L317.41 240.24 L317.6 235 L317.79 229.56 L317.97 224.22 L318.14 219.27 L318.3 215 L318.44 211.36 L318.57 208.12 L318.68 205.26 L318.79 202.79 L318.89 200.71 L319 199 L319.1 197.8 L319.2 197.15 L319.29 196.87 L319.39 196.83 L319.49 196.86 L319.6 196.8 L319.72 196.57 L319.85 196.28 L319.99 196.06 L320.13 196.05 L320.26 196.39 L320.4 197.2 L320.53 198.42 L320.66 199.91 L320.78 201.75 L320.91 204 L321.05 206.73 L321.2 210 L321.37 214.07 L321.54 218.95 L321.73 224.3 L321.92 229.81 L322.11 235.15 L322.3 240 L322.48 244.5 L322.66 248.94 L322.83 253.22 L323.01 257.22 L323.2 260.85 L323.4 264 L323.61 266.58 L323.83 268.67 L324.06 270.38 L324.3 271.83 L324.55 273.17 L324.8 274.5 L325.06 275.77 L325.31 276.88 L325.58 277.86 L325.86 278.76 L326.17 279.62 L326.5 280.5 L326.86 281.39 L327.26 282.27 L327.67 283.11 L328.1 283.9 L328.55 284.64 L329 285.3 L329.48 285.89 L329.98 286.42 L330.49 286.89 L331.01 287.3 L331.52 287.67 L332 288 L332.46 288.26 L332.9 288.43 L333.34 288.56 L333.76 288.67 L334.18 288.81 L334.6 289 L335 289.26 L335.37 289.56 L335.74 289.88 L336.13 290.2 L336.54 290.51 L337 290.8 L337.46 291.06 L337.9 291.31 L338.37 291.56 L338.92 291.79 L339.61 292 L340.5 292.2 L341.57 292.4 L342.78 292.6 L344.12 292.78 L345.61 292.94 L347.24 293.05 L349 293.1 L350.92 293.09 L352.99 293.01 L355.21 292.9 L357.54 292.75 L359.98 292.58 L362.5 292.4 L365.28 292.2 L368.36 291.97 L371.55 291.71 L374.64 291.44 L377.42 291.17 L379.7 290.9 L381.38 290.64 L382.62 290.39 L383.55 290.13 L384.33 289.86 L385.09 289.55 L386 289.2 L387.05 288.75 L388.13 288.19 L389.21 287.61 L390.23 287.06 L391.18 286.64 L392 286.4 L392.66 286.38 L393.19 286.53 L393.62 286.79 L394.04 287.12 L394.48 287.47 L395 287.8 L395.58 288.13 L396.17 288.51 L396.79 288.91 L397.45 289.3 L398.18 289.68 L399 290 L399.91 290.3 L400.91 290.59 L401.98 290.86 L403.09 291.09 L404.24 291.24 L405.4 291.3 L406.61 291.26 L407.9 291.14 L409.21 290.95 L410.53 290.7 L411.8 290.42 L413 290.1 L414.13 289.74 L415.22 289.33 L416.27 288.88 L417.29 288.39 L418.26 287.9 L419.2 287.4 L420.09 286.88 L420.94 286.33 L421.76 285.76 L422.53 285.2 L423.28 284.68 L424 284.2 L424.69 283.74 L425.35 283.27 L425.97 282.83 L426.57 282.46 L427.15 282.21 L427.7 282.1 L428.21 282.17 L428.67 282.4 L429.11 282.73 L429.55 283.14 L430 283.57 L430.5 284 L431.04 284.45 L431.61 284.96 L432.21 285.49 L432.81 286.03 L433.41 286.55 L434 287 L434.56 287.4 L435.1 287.77 L435.64 288.11 L436.2 288.42 L436.81 288.72 L437.5 289 L438.23 289.28 L438.99 289.57 L439.79 289.84 L440.68 290.06 L441.67 290.22 L442.8 290.3 L444.14 290.3 L445.67 290.24 L447.32 290.11 L448.98 289.92 L450.57 289.65 L452 289.3 L453.28 288.83 L454.49 288.22 L455.62 287.54 L456.68 286.84 L457.67 286.18 L458.6 285.6 L459.44 285.06 L460.18 284.5 L460.86 283.97 L461.49 283.53 L462.09 283.22 L462.7 283.1 L463.29 283.21 L463.83 283.52 L464.36 283.97 L464.88 284.49 L465.42 285.02 L466 285.5 L466.56 285.95 L467.08 286.41 L467.62 286.89 L468.24 287.37 L469.01 287.84 L470 288.3 L471.13 288.75 L472.35 289.2 L473.71 289.65 L475.3 290.09 L477.17 290.5 L479.4 290.9 L481.87 291.28 L484.5 291.64 L487.42 291.98 L490.76 292.31 L494.65 292.61 L499.2 292.9 L505.09 293.17 L512.34 293.43 L520.14 293.67 L527.66 293.89 L534.09 294.07 L538.6 294.2" stroke="#202020" stroke-width="1.25" fill="none" stroke-linejoin="round"/>
<line x1="28" y1="25.2" x2="274" y2="25.2" stroke="#6c6c6c" stroke-width="1.5"/>
<line x1="28" y1="314.4" x2="274" y2="314.4" stroke="#3c3c3c" stroke-width="1.2"/>
<line x1="305.5" y1="25.2" x2="540" y2="25.2" stroke="#6c6c6c" stroke-width="1.5"/>
<line x1="305.5" y1="314.4" x2="540" y2="314.4" stroke="#3c3c3c" stroke-width="1.2"/>
<line x1="29" y1="24.5" x2="29" y2="315" stroke="#8a8a8a" stroke-width="2.0"/>
<line x1="273" y1="24.5" x2="273" y2="315" stroke="#8a8a8a" stroke-width="2.0"/>
<line x1="306.5" y1="24.5" x2="306.5" y2="315" stroke="#707070" stroke-width="1.4"/>
<line x1="539" y1="24.5" x2="539" y2="315" stroke="#8a8a8a" stroke-width="2.0"/>
<path d="M47.86 314.4 V319.2 M85.38 314.4 V319.2 M122.91 314.4 V319.2 M160.43 314.4 V319.2 M197.95 314.4 V319.2 M235.48 314.4 V319.2 M273 314.4 V319.2 M306.5 314.4 V319.2 M335.54 314.4 V319.2 M364.57 314.4 V319.2 M393.61 314.4 V319.2 M422.65 314.4 V319.2 M451.69 314.4 V319.2 M480.72 314.4 V319.2 M509.76 314.4 V319.2 M538.8 314.4 V319.2" stroke="#333" stroke-width="1.1" fill="none"/>
<g font-family="'Liberation Serif',serif" font-weight="bold" font-size="12" fill="#111" stroke="#111" stroke-width="0.25" text-anchor="middle">
<text x="47.86" y="330.7">20</text>
<text x="85.38" y="330.7">30</text>
<text x="122.91" y="330.7">40</text>
<text x="160.43" y="330.7">50</text>
<text x="197.95" y="330.7">60</text>
<text x="235.48" y="330.7">70</text>
<text x="273" y="330.7">80</text>
<text x="306.5" y="330.7">100</text>
<text x="335.54" y="330.7">200</text>
<text x="364.57" y="330.7">300</text>
<text x="393.61" y="330.7">400</text>
<text x="422.65" y="330.7">500</text>
<text x="451.69" y="330.7">600</text>
<text x="480.72" y="330.7">700</text>
<text x="509.76" y="330.7">800</text>
<text x="538.8" y="330.7">900</text>
</g>
<text x="86.9" y="349.4" font-family="'Liberation Serif',serif" font-weight="bold" font-size="16.35" fill="#111" stroke="#111" stroke-width="0.2">2 Theta (Degree)</text>
<text x="355" y="349.4" font-family="'Liberation Serif',serif" font-weight="bold" font-size="15.2" fill="#111" stroke="#111" stroke-width="0.2">Raman Shift (cm<tspan dy="-6.6" dx="0.8" font-size="9.4">-1</tspan><tspan dy="6.6" dx="0.3">)</tspan></text>
<text transform="translate(17,180.7) rotate(-90)" font-family="'Liberation Serif',serif" font-weight="bold" font-size="16.5" fill="#111" stroke="#111" stroke-width="0.3" text-anchor="middle">Intensity (a.u.)</text>
<text transform="translate(296.2,180) rotate(-90)" font-family="'Liberation Serif',serif" font-weight="bold" font-size="15.6" fill="#111" stroke="#111" stroke-width="0.3" text-anchor="middle">Intensity (a.u.)</text>
<text x="30.8" y="16.6" font-family="'Liberation Serif',serif" font-weight="bold" font-size="17.5" fill="#111">A</text>
<text x="308.4" y="16.5" font-family="'Liberation Serif',serif" font-weight="bold" font-size="17.5" fill="#111">B</text>
<text x="202.9" y="74.8" font-family="'Liberation Serif',serif" font-weight="bold" font-size="12.5" fill="#111" stroke="#111" stroke-width="0.45">Au/TiO<tspan font-size="7.3" dy="5.2">2</tspan><tspan dy="-5.2">-001</tspan></text>
<text x="204.1" y="143.3" font-family="'Liberation Serif',serif" font-weight="bold" font-size="12.5" fill="#111" stroke="#111" stroke-width="0.45">Au/TiO<tspan font-size="7.3" dy="5.2">2</tspan><tspan dy="-5.2">-101</tspan></text>
<text x="216.4" y="208.0" font-family="'Liberation Serif',serif" font-weight="bold" font-size="12.5" fill="#111" stroke="#111" stroke-width="0.45">TiO<tspan font-size="7.3" dy="5.2">2</tspan><tspan dy="-5.2">-001</tspan></text>
<text x="216.1" y="269.6" font-family="'Liberation Serif',serif" font-weight="bold" font-size="12.5" fill="#111" stroke="#111" stroke-width="0.45">TiO<tspan font-size="7.3" dy="5.2">2</tspan><tspan dy="-5.2">-101</tspan></text>
<text x="468.5" y="69.4" font-family="'Liberation Serif',serif" font-weight="bold" font-size="12.5" fill="#111" stroke="#111" stroke-width="0.45">Au/TiO<tspan font-size="7.3" dy="5.2">2</tspan><tspan dy="-5.2">-001</tspan></text>
<text x="466.4" y="125.2" font-family="'Liberation Serif',serif" font-weight="bold" font-size="12.5" fill="#111" stroke="#111" stroke-width="0.45">Au/TiO<tspan font-size="7.3" dy="5.2">2</tspan><tspan dy="-5.2">-101</tspan></text>
<text x="482.8" y="171.2" font-family="'Liberation Serif',serif" font-weight="bold" font-size="12.5" fill="#111" stroke="#111" stroke-width="0.45">TiO<tspan font-size="7.3" dy="5.2">2</tspan><tspan dy="-5.2">-001</tspan></text>
<text x="483.5" y="285.8" font-family="'Liberation Serif',serif" font-weight="bold" font-size="12.5" fill="#111" stroke="#111" stroke-width="0.45">TiO<tspan font-size="7.3" dy="5.2">2</tspan><tspan dy="-5.2">-101</tspan></text>
<g font-family="'Liberation Serif',serif" font-weight="bold" font-size="9.1" fill="#463a50" stroke="#463a50" stroke-width="0.2" letter-spacing="0.2">
<text x="55.8" y="40.2">(101)</text>
<text x="104.7" y="83.6">(004)</text>
<text x="142.5" y="67.4">(200)</text>
<text x="156.4" y="85.0">(105)</text>
<text x="173.3" y="76.0">(211)</text>
<text x="193.7" y="87.6">(204)</text>
<text x="214.9" y="89.9">(116)</text>
<text x="236.2" y="89.9">(220)</text>
</g>
<g font-family="'Liberation Serif',serif" font-size="10" fill="#8040dc" stroke="#8040dc" stroke-width="0.2" text-anchor="middle" letter-spacing="0.2">
<text x="107.6" y="47.7">Au</text><text x="133.5" y="47.7">Au</text>
<text x="107.1" y="60.4" ><tspan font-size="8.6" dy="-1.24">(</tspan><tspan dy="1.24">111</tspan><tspan font-size="8.6" dy="-1.24">)</tspan></text>
<text x="133.2" y="60.4" ><tspan font-size="8.6" dy="-1.24">(</tspan><tspan dy="1.24">200</tspan><tspan font-size="8.6" dy="-1.24">)</tspan></text>
</g>
<text x="315.5" y="39.0" font-family="'Liberation Serif',serif" font-size="13" fill="#7436d4"><tspan stroke="#7436d4" stroke-width="0.3">E</tspan><tspan font-size="8.2" dy="5.3" dx="-0.2">g</tspan></text>
<text x="330.5" y="66.1" font-family="'Liberation Serif',serif" font-size="13" fill="#7436d4"><tspan stroke="#7436d4" stroke-width="0.3">E</tspan><tspan font-size="8.2" dy="5.3" dx="-0.2">g</tspan></text>
<text x="386.2" y="56.8" font-family="'Liberation Serif',serif" font-size="13" fill="#7436d4"><tspan stroke="#7436d4" stroke-width="0.3">B</tspan><tspan font-size="8.2" dy="5.3" dx="-0.2">1g</tspan></text>
<text x="422.0" y="57.7" font-family="'Liberation Serif',serif" font-size="13" fill="#7436d4"><tspan stroke="#7436d4" stroke-width="0.3">A</tspan><tspan font-size="8.2" dy="5.3" dx="-0.2">1g</tspan></text>
<text x="457.4" y="55.8" font-family="'Liberation Serif',serif" font-size="13" fill="#7436d4"><tspan stroke="#7436d4" stroke-width="0.3">E</tspan><tspan font-size="8.2" dy="5.3" dx="-0.2">g</tspan></text>
</g>
</svg>
</body></html>
